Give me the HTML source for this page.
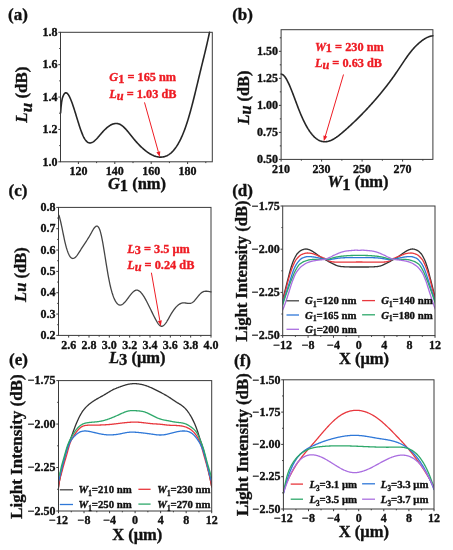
<!DOCTYPE html>
<html><head><meta charset="utf-8"><title>Figure</title>
<style>
html,body{margin:0;padding:0;background:#fff;width:453px;height:550px;overflow:hidden;}
svg{display:block;will-change:transform;filter:blur(0.3px);}
text{font-family:"Liberation Serif", serif;font-weight:bold;fill:#111;stroke:#111;stroke-width:0.35px;}
</style></head><body>
<svg width="453" height="550" viewBox="0 0 453 550">
<defs>
<clipPath id="cd"><rect x="282.7" y="206" width="152.3" height="129.6"/></clipPath>
<clipPath id="ce"><rect x="58.5" y="380.6" width="153.2" height="130.4"/></clipPath>
<clipPath id="cf"><rect x="283.4" y="379.8" width="150.6" height="129.2"/></clipPath>
</defs>
<line x1="58.30" y1="161.80" x2="60.50" y2="161.80" stroke="#3a3a3a" stroke-width="1.00"/>
<line x1="58.30" y1="129.43" x2="60.50" y2="129.43" stroke="#3a3a3a" stroke-width="1.00"/>
<line x1="58.30" y1="97.05" x2="60.50" y2="97.05" stroke="#3a3a3a" stroke-width="1.00"/>
<line x1="58.30" y1="64.68" x2="60.50" y2="64.68" stroke="#3a3a3a" stroke-width="1.00"/>
<line x1="58.30" y1="32.30" x2="60.50" y2="32.30" stroke="#3a3a3a" stroke-width="1.00"/>
<line x1="59.20" y1="145.61" x2="60.50" y2="145.61" stroke="#3a3a3a" stroke-width="1.00"/>
<line x1="59.20" y1="113.24" x2="60.50" y2="113.24" stroke="#3a3a3a" stroke-width="1.00"/>
<line x1="59.20" y1="80.86" x2="60.50" y2="80.86" stroke="#3a3a3a" stroke-width="1.00"/>
<line x1="59.20" y1="48.49" x2="60.50" y2="48.49" stroke="#3a3a3a" stroke-width="1.00"/>
<text class="yl" x="57.50" y="165.50" font-size="12.0" text-anchor="end">1.0</text>
<text class="yl" x="57.50" y="133.12" font-size="12.0" text-anchor="end">1.2</text>
<text class="yl" x="57.50" y="100.75" font-size="12.0" text-anchor="end">1.4</text>
<text class="yl" x="57.50" y="68.38" font-size="12.0" text-anchor="end">1.6</text>
<text class="yl" x="57.50" y="36.00" font-size="12.0" text-anchor="end">1.8</text>
<line x1="78.40" y1="161.80" x2="78.40" y2="164.00" stroke="#3a3a3a" stroke-width="1.00"/>
<line x1="114.80" y1="161.80" x2="114.80" y2="164.00" stroke="#3a3a3a" stroke-width="1.00"/>
<line x1="151.20" y1="161.80" x2="151.20" y2="164.00" stroke="#3a3a3a" stroke-width="1.00"/>
<line x1="187.60" y1="161.80" x2="187.60" y2="164.00" stroke="#3a3a3a" stroke-width="1.00"/>
<line x1="96.60" y1="161.80" x2="96.60" y2="163.10" stroke="#3a3a3a" stroke-width="1.00"/>
<line x1="133.00" y1="161.80" x2="133.00" y2="163.10" stroke="#3a3a3a" stroke-width="1.00"/>
<line x1="169.40" y1="161.80" x2="169.40" y2="163.10" stroke="#3a3a3a" stroke-width="1.00"/>
<line x1="205.80" y1="161.80" x2="205.80" y2="163.10" stroke="#3a3a3a" stroke-width="1.00"/>
<text class="xl" x="78.40" y="175.10" font-size="12.0" text-anchor="middle">120</text>
<text class="xl" x="114.80" y="175.10" font-size="12.0" text-anchor="middle">140</text>
<text class="xl" x="151.20" y="175.10" font-size="12.0" text-anchor="middle">160</text>
<text class="xl" x="187.60" y="175.10" font-size="12.0" text-anchor="middle">180</text>
<path d="M60.60,112.94 L61.10,106.56 L61.60,102.17 L62.10,99.27 L62.61,97.39 L63.11,96.05 L63.61,94.96 L64.11,94.11 L64.61,93.48 L65.11,93.06 L65.61,92.84 L66.11,92.82 L66.62,92.97 L67.12,93.29 L67.62,93.76 L68.12,94.38 L68.62,95.12 L69.12,95.99 L69.62,96.97 L70.13,98.04 L70.63,99.20 L71.13,100.43 L71.63,101.73 L72.13,103.09 L72.63,104.51 L73.13,105.98 L73.64,107.49 L74.14,109.04 L74.64,110.62 L75.14,112.22 L75.64,113.84 L76.14,115.47 L76.64,117.11 L77.14,118.74 L77.65,120.37 L78.15,121.99 L78.65,123.58 L79.15,125.15 L79.65,126.69 L80.15,128.19 L80.65,129.64 L81.16,131.04 L81.66,132.39 L82.16,133.66 L82.66,134.87 L83.16,136.01 L83.66,137.06 L84.16,138.02 L84.66,138.88 L85.17,139.65 L85.67,140.34 L86.17,140.93 L86.67,141.44 L87.17,141.87 L87.67,142.22 L88.17,142.50 L88.68,142.71 L89.18,142.85 L89.68,142.92 L90.18,142.93 L90.68,142.88 L91.18,142.77 L91.68,142.61 L92.18,142.40 L92.69,142.14 L93.19,141.84 L93.69,141.50 L94.19,141.12 L94.69,140.71 L95.19,140.26 L95.69,139.79 L96.20,139.29 L96.70,138.77 L97.20,138.22 L97.70,137.67 L98.20,137.09 L98.70,136.51 L99.20,135.92 L99.71,135.33 L100.21,134.74 L100.71,134.15 L101.21,133.56 L101.71,132.98 L102.21,132.41 L102.71,131.86 L103.21,131.31 L103.72,130.78 L104.22,130.26 L104.72,129.76 L105.22,129.27 L105.72,128.80 L106.22,128.34 L106.72,127.90 L107.23,127.47 L107.73,127.07 L108.23,126.68 L108.73,126.31 L109.23,125.96 L109.73,125.63 L110.23,125.32 L110.73,125.04 L111.24,124.77 L111.74,124.53 L112.24,124.31 L112.74,124.12 L113.24,123.95 L113.74,123.81 L114.24,123.69 L114.75,123.60 L115.25,123.54 L115.75,123.50 L116.25,123.49 L116.75,123.51 L117.25,123.57 L117.75,123.65 L118.25,123.76 L118.76,123.91 L119.26,124.08 L119.76,124.29 L120.26,124.54 L120.76,124.82 L121.26,125.13 L121.76,125.47 L122.27,125.84 L122.77,126.24 L123.27,126.67 L123.77,127.12 L124.27,127.60 L124.77,128.10 L125.27,128.62 L125.78,129.15 L126.28,129.71 L126.78,130.28 L127.28,130.86 L127.78,131.45 L128.28,132.06 L128.78,132.67 L129.28,133.29 L129.79,133.92 L130.29,134.55 L130.79,135.18 L131.29,135.81 L131.79,136.44 L132.29,137.07 L132.79,137.70 L133.30,138.32 L133.80,138.93 L134.30,139.53 L134.80,140.13 L135.30,140.71 L135.80,141.29 L136.30,141.86 L136.80,142.41 L137.31,142.96 L137.81,143.51 L138.31,144.04 L138.81,144.56 L139.31,145.08 L139.81,145.58 L140.31,146.08 L140.82,146.57 L141.32,147.05 L141.82,147.52 L142.32,147.98 L142.82,148.43 L143.32,148.87 L143.82,149.30 L144.32,149.72 L144.83,150.14 L145.33,150.54 L145.83,150.94 L146.33,151.32 L146.83,151.70 L147.33,152.06 L147.83,152.42 L148.34,152.76 L148.84,153.09 L149.34,153.41 L149.84,153.72 L150.34,154.02 L150.84,154.30 L151.34,154.58 L151.85,154.84 L152.35,155.09 L152.85,155.32 L153.35,155.54 L153.85,155.75 L154.35,155.95 L154.85,156.13 L155.35,156.29 L155.86,156.45 L156.36,156.59 L156.86,156.71 L157.36,156.82 L157.86,156.91 L158.36,156.99 L158.86,157.05 L159.37,157.09 L159.87,157.12 L160.37,157.14 L160.87,157.13 L161.37,157.11 L161.87,157.07 L162.37,157.02 L162.87,156.95 L163.38,156.85 L163.88,156.75 L164.38,156.62 L164.88,156.47 L165.38,156.31 L165.88,156.12 L166.38,155.91 L166.89,155.69 L167.39,155.44 L167.89,155.16 L168.39,154.87 L168.89,154.55 L169.39,154.21 L169.89,153.84 L170.39,153.45 L170.90,153.04 L171.40,152.60 L171.90,152.13 L172.40,151.63 L172.90,151.11 L173.40,150.56 L173.90,149.98 L174.41,149.37 L174.91,148.73 L175.41,148.06 L175.91,147.36 L176.41,146.63 L176.91,145.86 L177.41,145.07 L177.92,144.24 L178.42,143.37 L178.92,142.48 L179.42,141.55 L179.92,140.58 L180.42,139.58 L180.92,138.54 L181.42,137.46 L181.93,136.35 L182.43,135.20 L182.93,134.01 L183.43,132.78 L183.93,131.51 L184.43,130.20 L184.93,128.86 L185.44,127.47 L185.94,126.03 L186.44,124.56 L186.94,123.04 L187.44,121.49 L187.94,119.88 L188.44,118.23 L188.94,116.54 L189.45,114.81 L189.95,113.04 L190.45,111.23 L190.95,109.39 L191.45,107.52 L191.95,105.62 L192.45,103.69 L192.96,101.73 L193.46,99.75 L193.96,97.75 L194.46,95.73 L194.96,93.69 L195.46,91.64 L195.96,89.58 L196.46,87.50 L196.97,85.42 L197.47,83.33 L197.97,81.24 L198.47,79.15 L198.97,77.06 L199.47,74.97 L199.97,72.88 L200.48,70.81 L200.98,68.74 L201.48,66.68 L201.98,64.64 L202.48,62.60 L202.98,60.56 L203.48,58.52 L203.99,56.47 L204.49,54.42 L204.99,52.35 L205.49,50.26 L205.99,48.14 L206.49,46.01 L206.99,43.83 L207.49,41.63 L208.00,39.38 L208.50,37.10 L209.00,34.76 L209.50,32.37" fill="none" stroke="#262626" stroke-width="1.60" stroke-linejoin="round" stroke-linecap="round"/>
<rect x="60.50" y="32.30" width="151.80" height="129.50" fill="none" stroke="#3a3a3a" stroke-width="1.00"/>
<line x1="144.50" y1="102.40" x2="158.32" y2="151.70" stroke="#ee1c24" stroke-width="1.00"/>
<path d="M159.80,157.00 L156.39,152.24 L160.24,151.16 Z" fill="#ee1c24"/>
<text class="rt" x="109.30" y="81.00" font-size="12.3" style="fill:#ee1c24;stroke:#ee1c24"><tspan font-style="italic">G</tspan><tspan dy="1.5">1</tspan><tspan dy="-1.5"> = 165 nm</tspan></text>
<text class="rt" x="109.30" y="97.50" font-size="12.3" style="fill:#ee1c24;stroke:#ee1c24"><tspan font-style="italic">L</tspan><tspan font-style="italic" dy="2">u</tspan><tspan dy="-2"> = 1.03 dB</tspan></text>
<text class="pl" x="8.00" y="19.60" font-size="17.0">(a)</text>
<text class="yt" transform="translate(27.00,94.60) rotate(-90)" x="0" y="0" font-size="17.0" text-anchor="middle"><tspan font-style="italic">L</tspan><tspan font-style="italic" dy="5">u</tspan><tspan dy="-5"> (dB)</tspan></text>
<text class="xt" x="107.90" y="189.00" font-size="16.5"><tspan font-style="italic">G</tspan><tspan dy="1.5">1</tspan><tspan dy="-1.5"> (nm)</tspan></text>
<line x1="278.90" y1="159.40" x2="281.10" y2="159.40" stroke="#3a3a3a" stroke-width="1.00"/>
<line x1="278.90" y1="132.38" x2="281.10" y2="132.38" stroke="#3a3a3a" stroke-width="1.00"/>
<line x1="278.90" y1="105.36" x2="281.10" y2="105.36" stroke="#3a3a3a" stroke-width="1.00"/>
<line x1="278.90" y1="78.34" x2="281.10" y2="78.34" stroke="#3a3a3a" stroke-width="1.00"/>
<line x1="278.90" y1="51.32" x2="281.10" y2="51.32" stroke="#3a3a3a" stroke-width="1.00"/>
<line x1="279.80" y1="145.89" x2="281.10" y2="145.89" stroke="#3a3a3a" stroke-width="1.00"/>
<line x1="279.80" y1="118.87" x2="281.10" y2="118.87" stroke="#3a3a3a" stroke-width="1.00"/>
<line x1="279.80" y1="91.85" x2="281.10" y2="91.85" stroke="#3a3a3a" stroke-width="1.00"/>
<line x1="279.80" y1="64.83" x2="281.10" y2="64.83" stroke="#3a3a3a" stroke-width="1.00"/>
<line x1="279.80" y1="37.81" x2="281.10" y2="37.81" stroke="#3a3a3a" stroke-width="1.00"/>
<text class="yl" x="278.10" y="163.10" font-size="12.0" text-anchor="end">0.50</text>
<text class="yl" x="278.10" y="136.08" font-size="12.0" text-anchor="end">0.75</text>
<text class="yl" x="278.10" y="109.06" font-size="12.0" text-anchor="end">1.00</text>
<text class="yl" x="278.10" y="82.04" font-size="12.0" text-anchor="end">1.25</text>
<text class="yl" x="278.10" y="55.02" font-size="12.0" text-anchor="end">1.50</text>
<line x1="281.10" y1="159.40" x2="281.10" y2="161.60" stroke="#3a3a3a" stroke-width="1.00"/>
<line x1="321.60" y1="159.40" x2="321.60" y2="161.60" stroke="#3a3a3a" stroke-width="1.00"/>
<line x1="362.10" y1="159.40" x2="362.10" y2="161.60" stroke="#3a3a3a" stroke-width="1.00"/>
<line x1="402.60" y1="159.40" x2="402.60" y2="161.60" stroke="#3a3a3a" stroke-width="1.00"/>
<line x1="301.35" y1="159.40" x2="301.35" y2="160.70" stroke="#3a3a3a" stroke-width="1.00"/>
<line x1="341.85" y1="159.40" x2="341.85" y2="160.70" stroke="#3a3a3a" stroke-width="1.00"/>
<line x1="382.35" y1="159.40" x2="382.35" y2="160.70" stroke="#3a3a3a" stroke-width="1.00"/>
<line x1="422.85" y1="159.40" x2="422.85" y2="160.70" stroke="#3a3a3a" stroke-width="1.00"/>
<text class="xl" x="281.10" y="172.70" font-size="12.0" text-anchor="middle">210</text>
<text class="xl" x="321.60" y="172.70" font-size="12.0" text-anchor="middle">230</text>
<text class="xl" x="362.10" y="172.70" font-size="12.0" text-anchor="middle">250</text>
<text class="xl" x="402.60" y="172.70" font-size="12.0" text-anchor="middle">270</text>
<path d="M281.20,74.12 L281.70,74.20 L282.20,74.39 L282.70,74.66 L283.20,75.02 L283.70,75.46 L284.20,75.98 L284.70,76.57 L285.21,77.24 L285.71,77.97 L286.21,78.77 L286.71,79.63 L287.21,80.54 L287.71,81.51 L288.21,82.53 L288.71,83.59 L289.21,84.70 L289.71,85.84 L290.21,87.02 L290.71,88.23 L291.21,89.47 L291.71,90.73 L292.21,92.01 L292.72,93.31 L293.22,94.62 L293.72,95.95 L294.22,97.28 L294.72,98.62 L295.22,99.96 L295.72,101.30 L296.22,102.64 L296.72,103.97 L297.22,105.30 L297.72,106.62 L298.22,107.93 L298.72,109.22 L299.22,110.49 L299.72,111.75 L300.23,112.98 L300.73,114.19 L301.23,115.37 L301.73,116.53 L302.23,117.66 L302.73,118.76 L303.23,119.84 L303.73,120.89 L304.23,121.91 L304.73,122.91 L305.23,123.88 L305.73,124.83 L306.23,125.75 L306.73,126.64 L307.23,127.50 L307.73,128.34 L308.24,129.15 L308.74,129.94 L309.24,130.70 L309.74,131.43 L310.24,132.14 L310.74,132.81 L311.24,133.47 L311.74,134.09 L312.24,134.69 L312.74,135.26 L313.24,135.81 L313.74,136.33 L314.24,136.83 L314.74,137.30 L315.24,137.74 L315.75,138.17 L316.25,138.56 L316.75,138.93 L317.25,139.28 L317.75,139.61 L318.25,139.91 L318.75,140.18 L319.25,140.44 L319.75,140.67 L320.25,140.88 L320.75,141.06 L321.25,141.23 L321.75,141.37 L322.25,141.49 L322.75,141.58 L323.26,141.66 L323.76,141.71 L324.26,141.75 L324.76,141.76 L325.26,141.75 L325.76,141.72 L326.26,141.67 L326.76,141.61 L327.26,141.52 L327.76,141.42 L328.26,141.30 L328.76,141.16 L329.26,141.00 L329.76,140.83 L330.26,140.65 L330.77,140.44 L331.27,140.23 L331.77,139.99 L332.27,139.75 L332.77,139.49 L333.27,139.22 L333.77,138.94 L334.27,138.64 L334.77,138.33 L335.27,138.01 L335.77,137.68 L336.27,137.35 L336.77,137.00 L337.27,136.64 L337.77,136.27 L338.28,135.90 L338.78,135.51 L339.28,135.12 L339.78,134.73 L340.28,134.33 L340.78,133.92 L341.28,133.50 L341.78,133.08 L342.28,132.66 L342.78,132.23 L343.28,131.80 L343.78,131.37 L344.28,130.93 L344.78,130.49 L345.28,130.05 L345.79,129.61 L346.29,129.17 L346.79,128.72 L347.29,128.27 L347.79,127.82 L348.29,127.37 L348.79,126.91 L349.29,126.46 L349.79,126.00 L350.29,125.54 L350.79,125.07 L351.29,124.61 L351.79,124.14 L352.29,123.67 L352.79,123.20 L353.30,122.73 L353.80,122.25 L354.30,121.77 L354.80,121.29 L355.30,120.81 L355.80,120.32 L356.30,119.84 L356.80,119.35 L357.30,118.86 L357.80,118.37 L358.30,117.87 L358.80,117.37 L359.30,116.87 L359.80,116.37 L360.30,115.87 L360.80,115.36 L361.31,114.85 L361.81,114.34 L362.31,113.83 L362.81,113.31 L363.31,112.80 L363.81,112.28 L364.31,111.76 L364.81,111.23 L365.31,110.70 L365.81,110.18 L366.31,109.65 L366.81,109.11 L367.31,108.58 L367.81,108.04 L368.31,107.50 L368.82,106.96 L369.32,106.41 L369.82,105.87 L370.32,105.32 L370.82,104.77 L371.32,104.21 L371.82,103.66 L372.32,103.10 L372.82,102.54 L373.32,101.97 L373.82,101.41 L374.32,100.84 L374.82,100.27 L375.32,99.69 L375.82,99.12 L376.33,98.54 L376.83,97.96 L377.33,97.37 L377.83,96.78 L378.33,96.19 L378.83,95.60 L379.33,95.00 L379.83,94.40 L380.33,93.80 L380.83,93.19 L381.33,92.58 L381.83,91.97 L382.33,91.35 L382.83,90.74 L383.33,90.11 L383.84,89.49 L384.34,88.86 L384.84,88.22 L385.34,87.59 L385.84,86.95 L386.34,86.30 L386.84,85.65 L387.34,85.00 L387.84,84.35 L388.34,83.69 L388.84,83.02 L389.34,82.36 L389.84,81.69 L390.34,81.01 L390.84,80.33 L391.35,79.65 L391.85,78.96 L392.35,78.27 L392.85,77.57 L393.35,76.87 L393.85,76.17 L394.35,75.46 L394.85,74.74 L395.35,74.03 L395.85,73.30 L396.35,72.58 L396.85,71.84 L397.35,71.11 L397.85,70.37 L398.35,69.62 L398.86,68.87 L399.36,68.12 L399.86,67.37 L400.36,66.61 L400.86,65.86 L401.36,65.10 L401.86,64.35 L402.36,63.59 L402.86,62.84 L403.36,62.09 L403.86,61.35 L404.36,60.61 L404.86,59.87 L405.36,59.14 L405.86,58.41 L406.37,57.70 L406.87,56.98 L407.37,56.28 L407.87,55.58 L408.37,54.90 L408.87,54.22 L409.37,53.56 L409.87,52.90 L410.37,52.26 L410.87,51.63 L411.37,51.02 L411.87,50.41 L412.37,49.82 L412.87,49.24 L413.37,48.67 L413.87,48.12 L414.38,47.57 L414.88,47.04 L415.38,46.52 L415.88,46.01 L416.38,45.51 L416.88,45.03 L417.38,44.55 L417.88,44.08 L418.38,43.63 L418.88,43.18 L419.38,42.75 L419.88,42.33 L420.38,41.91 L420.88,41.51 L421.38,41.12 L421.89,40.73 L422.39,40.36 L422.89,40.01 L423.39,39.66 L423.89,39.32 L424.39,39.00 L424.89,38.69 L425.39,38.40 L425.89,38.12 L426.39,37.85 L426.89,37.59 L427.39,37.36 L427.89,37.13 L428.39,36.92 L428.89,36.73 L429.40,36.55 L429.90,36.39 L430.40,36.25 L430.90,36.12 L431.40,36.02 L431.90,35.93 L432.40,35.85 L432.90,35.80" fill="none" stroke="#262626" stroke-width="1.60" stroke-linejoin="round" stroke-linecap="round"/>
<rect x="281.10" y="29.70" width="151.80" height="129.70" fill="none" stroke="#3a3a3a" stroke-width="1.00"/>
<line x1="343.50" y1="74.50" x2="325.36" y2="136.02" stroke="#ee1c24" stroke-width="1.00"/>
<path d="M323.80,141.30 L323.44,135.46 L327.27,136.59 Z" fill="#ee1c24"/>
<text class="rt" x="314.90" y="50.90" font-size="12.3" style="fill:#ee1c24;stroke:#ee1c24"><tspan font-style="italic">W</tspan><tspan dy="1.5">1</tspan><tspan dy="-1.5"> = 230 nm</tspan></text>
<text class="rt" x="314.90" y="66.90" font-size="12.3" style="fill:#ee1c24;stroke:#ee1c24"><tspan font-style="italic">L</tspan><tspan font-style="italic" dy="2">u</tspan><tspan dy="-2"> = 0.63 dB</tspan></text>
<text class="pl" x="232.20" y="19.60" font-size="17.0">(b)</text>
<text class="yt" transform="translate(249.00,97.60) rotate(-90)" x="0" y="0" font-size="16.3" text-anchor="middle"><tspan font-style="italic">L</tspan><tspan font-style="italic" dy="2">u</tspan><tspan dy="-2"> (dB)</tspan></text>
<text class="xt" x="327.60" y="186.70" font-size="16.5"><tspan font-style="italic">W</tspan><tspan dy="3.2">1</tspan><tspan dy="-3.2"> (nm)</tspan></text>
<line x1="56.30" y1="335.40" x2="58.50" y2="335.40" stroke="#3a3a3a" stroke-width="1.00"/>
<line x1="56.30" y1="314.07" x2="58.50" y2="314.07" stroke="#3a3a3a" stroke-width="1.00"/>
<line x1="56.30" y1="292.73" x2="58.50" y2="292.73" stroke="#3a3a3a" stroke-width="1.00"/>
<line x1="56.30" y1="271.40" x2="58.50" y2="271.40" stroke="#3a3a3a" stroke-width="1.00"/>
<line x1="56.30" y1="250.07" x2="58.50" y2="250.07" stroke="#3a3a3a" stroke-width="1.00"/>
<line x1="56.30" y1="228.73" x2="58.50" y2="228.73" stroke="#3a3a3a" stroke-width="1.00"/>
<line x1="56.30" y1="207.40" x2="58.50" y2="207.40" stroke="#3a3a3a" stroke-width="1.00"/>
<line x1="57.20" y1="324.73" x2="58.50" y2="324.73" stroke="#3a3a3a" stroke-width="1.00"/>
<line x1="57.20" y1="303.40" x2="58.50" y2="303.40" stroke="#3a3a3a" stroke-width="1.00"/>
<line x1="57.20" y1="282.07" x2="58.50" y2="282.07" stroke="#3a3a3a" stroke-width="1.00"/>
<line x1="57.20" y1="260.73" x2="58.50" y2="260.73" stroke="#3a3a3a" stroke-width="1.00"/>
<line x1="57.20" y1="239.40" x2="58.50" y2="239.40" stroke="#3a3a3a" stroke-width="1.00"/>
<line x1="57.20" y1="218.07" x2="58.50" y2="218.07" stroke="#3a3a3a" stroke-width="1.00"/>
<text class="yl" x="55.50" y="339.10" font-size="12.0" text-anchor="end">0.2</text>
<text class="yl" x="55.50" y="317.77" font-size="12.0" text-anchor="end">0.3</text>
<text class="yl" x="55.50" y="296.43" font-size="12.0" text-anchor="end">0.4</text>
<text class="yl" x="55.50" y="275.10" font-size="12.0" text-anchor="end">0.5</text>
<text class="yl" x="55.50" y="253.77" font-size="12.0" text-anchor="end">0.6</text>
<text class="yl" x="55.50" y="232.43" font-size="12.0" text-anchor="end">0.7</text>
<text class="yl" x="55.50" y="211.10" font-size="12.0" text-anchor="end">0.8</text>
<line x1="68.67" y1="335.40" x2="68.67" y2="337.60" stroke="#3a3a3a" stroke-width="1.00"/>
<line x1="89.00" y1="335.40" x2="89.00" y2="337.60" stroke="#3a3a3a" stroke-width="1.00"/>
<line x1="109.33" y1="335.40" x2="109.33" y2="337.60" stroke="#3a3a3a" stroke-width="1.00"/>
<line x1="129.67" y1="335.40" x2="129.67" y2="337.60" stroke="#3a3a3a" stroke-width="1.00"/>
<line x1="150.00" y1="335.40" x2="150.00" y2="337.60" stroke="#3a3a3a" stroke-width="1.00"/>
<line x1="170.33" y1="335.40" x2="170.33" y2="337.60" stroke="#3a3a3a" stroke-width="1.00"/>
<line x1="190.67" y1="335.40" x2="190.67" y2="337.60" stroke="#3a3a3a" stroke-width="1.00"/>
<line x1="211.00" y1="335.40" x2="211.00" y2="337.60" stroke="#3a3a3a" stroke-width="1.00"/>
<line x1="78.83" y1="335.40" x2="78.83" y2="336.70" stroke="#3a3a3a" stroke-width="1.00"/>
<line x1="99.17" y1="335.40" x2="99.17" y2="336.70" stroke="#3a3a3a" stroke-width="1.00"/>
<line x1="119.50" y1="335.40" x2="119.50" y2="336.70" stroke="#3a3a3a" stroke-width="1.00"/>
<line x1="139.83" y1="335.40" x2="139.83" y2="336.70" stroke="#3a3a3a" stroke-width="1.00"/>
<line x1="160.17" y1="335.40" x2="160.17" y2="336.70" stroke="#3a3a3a" stroke-width="1.00"/>
<line x1="180.50" y1="335.40" x2="180.50" y2="336.70" stroke="#3a3a3a" stroke-width="1.00"/>
<line x1="200.83" y1="335.40" x2="200.83" y2="336.70" stroke="#3a3a3a" stroke-width="1.00"/>
<text class="xl" x="68.67" y="348.70" font-size="12.0" text-anchor="middle">2.6</text>
<text class="xl" x="89.00" y="348.70" font-size="12.0" text-anchor="middle">2.8</text>
<text class="xl" x="109.33" y="348.70" font-size="12.0" text-anchor="middle">3.0</text>
<text class="xl" x="129.67" y="348.70" font-size="12.0" text-anchor="middle">3.2</text>
<text class="xl" x="150.00" y="348.70" font-size="12.0" text-anchor="middle">3.4</text>
<text class="xl" x="170.33" y="348.70" font-size="12.0" text-anchor="middle">3.6</text>
<text class="xl" x="190.67" y="348.70" font-size="12.0" text-anchor="middle">3.8</text>
<text class="xl" x="211.00" y="348.70" font-size="12.0" text-anchor="middle">4.0</text>
<path d="M58.90,215.17 L59.40,216.77 L59.90,218.59 L60.40,220.59 L60.90,222.75 L61.40,225.03 L61.90,227.41 L62.40,229.84 L62.90,232.30 L63.40,234.75 L63.90,237.18 L64.40,239.53 L64.90,241.79 L65.40,243.91 L65.90,245.89 L66.40,247.71 L66.91,249.38 L67.41,250.90 L67.91,252.28 L68.41,253.51 L68.91,254.60 L69.41,255.55 L69.91,256.37 L70.41,257.04 L70.91,257.58 L71.41,257.99 L71.91,258.27 L72.41,258.43 L72.91,258.48 L73.41,258.41 L73.91,258.25 L74.41,257.99 L74.91,257.65 L75.41,257.23 L75.91,256.74 L76.41,256.18 L76.91,255.57 L77.41,254.91 L77.91,254.21 L78.41,253.47 L78.91,252.70 L79.41,251.92 L79.91,251.12 L80.41,250.31 L80.91,249.51 L81.41,248.71 L81.92,247.93 L82.42,247.15 L82.92,246.38 L83.42,245.61 L83.92,244.85 L84.42,244.09 L84.92,243.33 L85.42,242.57 L85.92,241.80 L86.42,241.04 L86.92,240.26 L87.42,239.48 L87.92,238.68 L88.42,237.88 L88.92,237.06 L89.42,236.23 L89.92,235.38 L90.42,234.51 L90.92,233.63 L91.42,232.72 L91.92,231.81 L92.42,230.91 L92.92,230.03 L93.42,229.21 L93.92,228.44 L94.42,227.75 L94.92,227.16 L95.42,226.68 L95.92,226.33 L96.42,226.13 L96.92,226.09 L97.43,226.24 L97.93,226.59 L98.43,227.15 L98.93,227.95 L99.43,229.00 L99.93,230.31 L100.43,231.91 L100.93,233.80 L101.43,235.95 L101.93,238.34 L102.43,240.92 L102.93,243.67 L103.43,246.56 L103.93,249.56 L104.43,252.64 L104.93,255.77 L105.43,258.91 L105.93,262.05 L106.43,265.15 L106.93,268.18 L107.43,271.15 L107.93,274.02 L108.43,276.79 L108.93,279.44 L109.43,281.95 L109.93,284.31 L110.43,286.51 L110.93,288.55 L111.43,290.44 L111.93,292.20 L112.44,293.82 L112.94,295.32 L113.44,296.71 L113.94,297.97 L114.44,299.13 L114.94,300.17 L115.44,301.10 L115.94,301.93 L116.44,302.65 L116.94,303.28 L117.44,303.81 L117.94,304.24 L118.44,304.58 L118.94,304.82 L119.44,304.99 L119.94,305.06 L120.44,305.06 L120.94,304.97 L121.44,304.81 L121.94,304.59 L122.44,304.29 L122.94,303.94 L123.44,303.54 L123.94,303.08 L124.44,302.58 L124.94,302.04 L125.44,301.47 L125.94,300.87 L126.44,300.24 L126.94,299.59 L127.45,298.93 L127.95,298.26 L128.45,297.58 L128.95,296.90 L129.45,296.23 L129.95,295.57 L130.45,294.92 L130.95,294.30 L131.45,293.70 L131.95,293.12 L132.45,292.59 L132.95,292.09 L133.45,291.64 L133.95,291.24 L134.45,290.89 L134.95,290.60 L135.45,290.38 L135.95,290.22 L136.45,290.14 L136.95,290.14 L137.45,290.21 L137.95,290.36 L138.45,290.57 L138.95,290.84 L139.45,291.19 L139.95,291.59 L140.45,292.05 L140.95,292.56 L141.45,293.13 L141.95,293.74 L142.45,294.40 L142.96,295.11 L143.46,295.85 L143.96,296.64 L144.46,297.46 L144.96,298.31 L145.46,299.19 L145.96,300.10 L146.46,301.03 L146.96,301.98 L147.46,302.95 L147.96,303.94 L148.46,304.94 L148.96,305.96 L149.46,306.98 L149.96,308.00 L150.46,309.04 L150.96,310.07 L151.46,311.11 L151.96,312.14 L152.46,313.16 L152.96,314.18 L153.46,315.20 L153.96,316.19 L154.46,317.18 L154.96,318.15 L155.46,319.10 L155.96,320.03 L156.46,320.93 L156.96,321.79 L157.46,322.61 L157.97,323.37 L158.47,324.06 L158.97,324.67 L159.47,325.20 L159.97,325.63 L160.47,325.96 L160.97,326.18 L161.47,326.27 L161.97,326.25 L162.47,326.12 L162.97,325.89 L163.47,325.56 L163.97,325.15 L164.47,324.66 L164.97,324.09 L165.47,323.46 L165.97,322.77 L166.47,322.03 L166.97,321.25 L167.47,320.43 L167.97,319.58 L168.47,318.71 L168.97,317.82 L169.47,316.93 L169.97,316.04 L170.47,315.16 L170.97,314.29 L171.47,313.44 L171.97,312.63 L172.47,311.84 L172.97,311.08 L173.48,310.35 L173.98,309.65 L174.48,308.99 L174.98,308.35 L175.48,307.75 L175.98,307.18 L176.48,306.64 L176.98,306.14 L177.48,305.67 L177.98,305.23 L178.48,304.83 L178.98,304.46 L179.48,304.13 L179.98,303.84 L180.48,303.58 L180.98,303.36 L181.48,303.18 L181.98,303.04 L182.48,302.94 L182.98,302.87 L183.48,302.84 L183.98,302.85 L184.48,302.88 L184.98,302.94 L185.48,303.01 L185.98,303.09 L186.48,303.17 L186.98,303.25 L187.48,303.33 L187.98,303.39 L188.49,303.44 L188.99,303.46 L189.49,303.45 L189.99,303.41 L190.49,303.32 L190.99,303.19 L191.49,303.01 L191.99,302.76 L192.49,302.45 L192.99,302.08 L193.49,301.66 L193.99,301.18 L194.49,300.67 L194.99,300.11 L195.49,299.53 L195.99,298.93 L196.49,298.31 L196.99,297.68 L197.49,297.05 L197.99,296.42 L198.49,295.80 L198.99,295.21 L199.49,294.63 L199.99,294.09 L200.49,293.59 L200.99,293.13 L201.49,292.72 L201.99,292.37 L202.49,292.07 L202.99,291.83 L203.50,291.63 L204.00,291.47 L204.50,291.36 L205.00,291.28 L205.50,291.24 L206.00,291.23 L206.50,291.24 L207.00,291.27 L207.50,291.32 L208.00,291.39 L208.50,291.47 L209.00,291.55 L209.50,291.64 L210.00,291.73 L210.50,291.82 L211.00,291.90" fill="none" stroke="#454545" stroke-width="1.30" stroke-linejoin="round" stroke-linecap="round"/>
<rect x="58.50" y="207.40" width="152.50" height="128.00" fill="none" stroke="#3a3a3a" stroke-width="1.00"/>
<line x1="151.40" y1="272.70" x2="159.84" y2="320.58" stroke="#ee1c24" stroke-width="1.00"/>
<path d="M160.80,326.00 L157.88,320.93 L161.81,320.24 Z" fill="#ee1c24"/>
<text class="rt" x="127.20" y="252.70" font-size="12.3" style="fill:#ee1c24;stroke:#ee1c24"><tspan font-style="italic">L</tspan><tspan dy="1.5">3</tspan><tspan dy="-1.5"> = 3.5 μm</tspan></text>
<text class="rt" x="127.20" y="268.60" font-size="12.3" style="fill:#ee1c24;stroke:#ee1c24"><tspan font-style="italic">L</tspan><tspan font-style="italic" dy="2">u</tspan><tspan dy="-2"> = 0.24 dB</tspan></text>
<text class="pl" x="8.60" y="195.50" font-size="17.0">(c)</text>
<text class="yt" transform="translate(26.20,274.60) rotate(-90)" x="0" y="0" font-size="16.5" text-anchor="middle"><tspan font-style="italic">Lu</tspan> (dB)</text>
<text class="xt" x="109.00" y="363.20" font-size="16.5"><tspan font-style="italic">L</tspan><tspan dy="2.2">3</tspan><tspan dy="-2.2"> (μm)</tspan></text>
<line x1="280.50" y1="335.60" x2="282.70" y2="335.60" stroke="#3a3a3a" stroke-width="1.00"/>
<line x1="280.50" y1="292.40" x2="282.70" y2="292.40" stroke="#3a3a3a" stroke-width="1.00"/>
<line x1="280.50" y1="249.20" x2="282.70" y2="249.20" stroke="#3a3a3a" stroke-width="1.00"/>
<line x1="280.50" y1="206.00" x2="282.70" y2="206.00" stroke="#3a3a3a" stroke-width="1.00"/>
<line x1="281.40" y1="314.00" x2="282.70" y2="314.00" stroke="#3a3a3a" stroke-width="1.00"/>
<line x1="281.40" y1="270.80" x2="282.70" y2="270.80" stroke="#3a3a3a" stroke-width="1.00"/>
<line x1="281.40" y1="227.60" x2="282.70" y2="227.60" stroke="#3a3a3a" stroke-width="1.00"/>
<text class="yl" x="279.70" y="339.30" font-size="12.0" text-anchor="end">−2.50</text>
<text class="yl" x="279.70" y="296.10" font-size="12.0" text-anchor="end">−2.25</text>
<text class="yl" x="279.70" y="252.90" font-size="12.0" text-anchor="end">−2.00</text>
<text class="yl" x="279.70" y="209.70" font-size="12.0" text-anchor="end">−1.75</text>
<line x1="282.70" y1="335.60" x2="282.70" y2="337.80" stroke="#3a3a3a" stroke-width="1.00"/>
<line x1="308.08" y1="335.60" x2="308.08" y2="337.80" stroke="#3a3a3a" stroke-width="1.00"/>
<line x1="333.47" y1="335.60" x2="333.47" y2="337.80" stroke="#3a3a3a" stroke-width="1.00"/>
<line x1="358.85" y1="335.60" x2="358.85" y2="337.80" stroke="#3a3a3a" stroke-width="1.00"/>
<line x1="384.23" y1="335.60" x2="384.23" y2="337.80" stroke="#3a3a3a" stroke-width="1.00"/>
<line x1="409.62" y1="335.60" x2="409.62" y2="337.80" stroke="#3a3a3a" stroke-width="1.00"/>
<line x1="435.00" y1="335.60" x2="435.00" y2="337.80" stroke="#3a3a3a" stroke-width="1.00"/>
<line x1="295.39" y1="335.60" x2="295.39" y2="336.90" stroke="#3a3a3a" stroke-width="1.00"/>
<line x1="320.77" y1="335.60" x2="320.77" y2="336.90" stroke="#3a3a3a" stroke-width="1.00"/>
<line x1="346.16" y1="335.60" x2="346.16" y2="336.90" stroke="#3a3a3a" stroke-width="1.00"/>
<line x1="371.54" y1="335.60" x2="371.54" y2="336.90" stroke="#3a3a3a" stroke-width="1.00"/>
<line x1="396.93" y1="335.60" x2="396.93" y2="336.90" stroke="#3a3a3a" stroke-width="1.00"/>
<line x1="422.31" y1="335.60" x2="422.31" y2="336.90" stroke="#3a3a3a" stroke-width="1.00"/>
<text class="xl" x="282.70" y="348.90" font-size="12.0" text-anchor="middle">−12</text>
<text class="xl" x="308.08" y="348.90" font-size="12.0" text-anchor="middle">−8</text>
<text class="xl" x="333.47" y="348.90" font-size="12.0" text-anchor="middle">−4</text>
<text class="xl" x="358.85" y="348.90" font-size="12.0" text-anchor="middle">0</text>
<text class="xl" x="384.23" y="348.90" font-size="12.0" text-anchor="middle">4</text>
<text class="xl" x="409.62" y="348.90" font-size="12.0" text-anchor="middle">8</text>
<text class="xl" x="435.00" y="348.90" font-size="12.0" text-anchor="middle">12</text>
<g clip-path="url(#cd)">
<path d="M282.70,299.50 L283.20,297.64 L283.70,295.76 L284.20,293.86 L284.70,291.94 L285.20,290.00 L285.70,288.02 L286.20,286.01 L286.70,283.98 L287.20,281.97 L287.70,280.00 L288.20,278.04 L288.70,276.05 L289.20,274.08 L289.70,272.15 L290.20,270.30 L290.70,268.57 L291.20,266.98 L291.70,265.45 L292.20,263.98 L292.70,262.59 L293.20,261.28 L293.70,260.08 L294.20,259.00 L294.70,258.01 L295.20,257.04 L295.70,256.10 L296.20,255.23 L296.70,254.44 L297.20,253.75 L297.70,253.20 L298.20,252.72 L298.70,252.25 L299.20,251.79 L299.70,251.36 L300.20,250.97 L300.70,250.61 L301.20,250.30 L301.70,250.05 L302.20,249.87 L302.70,249.70 L303.20,249.53 L303.70,249.37 L304.20,249.23 L304.70,249.11 L305.20,249.03 L305.70,249.00 L306.20,249.01 L306.70,249.06 L307.20,249.14 L307.70,249.25 L308.20,249.37 L308.70,249.52 L309.20,249.69 L309.70,249.86 L310.20,250.06 L310.70,250.29 L311.20,250.55 L311.70,250.83 L312.20,251.13 L312.70,251.45 L313.20,251.78 L313.70,252.12 L314.20,252.46 L314.70,252.80 L315.20,253.13 L315.70,253.47 L316.20,253.81 L316.70,254.17 L317.20,254.54 L317.70,254.91 L318.20,255.28 L318.70,255.65 L319.20,256.01 L319.70,256.37 L320.20,256.71 L320.70,257.04 L321.20,257.35 L321.70,257.65 L322.20,257.94 L322.70,258.22 L323.20,258.50 L323.70,258.77 L324.20,259.05 L324.70,259.33 L325.20,259.61 L325.70,259.90 L326.20,260.19 L326.70,260.48 L327.20,260.77 L327.70,261.06 L328.20,261.34 L328.70,261.62 L329.20,261.89 L329.70,262.16 L330.20,262.42 L330.70,262.68 L331.20,262.94 L331.70,263.20 L332.20,263.44 L332.70,263.69 L333.20,263.92 L333.70,264.15 L334.20,264.38 L334.70,264.62 L335.20,264.86 L335.70,265.09 L336.20,265.31 L336.70,265.52 L337.20,265.71 L337.70,265.87 L338.20,266.00 L338.70,266.11 L339.20,266.22 L339.70,266.32 L340.20,266.41 L340.70,266.49 L341.20,266.56 L341.70,266.62 L342.20,266.67 L342.70,266.70 L343.20,266.72 L343.70,266.75 L344.20,266.77 L344.70,266.79 L345.20,266.82 L345.70,266.84 L346.20,266.86 L346.70,266.88 L347.20,266.90 L347.70,266.92 L348.20,266.94 L348.70,266.96 L349.20,266.97 L349.70,266.98 L350.20,266.99 L350.70,267.00 L351.20,267.00 L351.70,267.00 L352.20,267.00 L352.70,267.00 L353.20,267.00 L353.70,267.00 L354.20,267.00 L354.70,267.00 L355.20,267.00 L355.70,267.00 L356.20,267.00 L356.70,267.00 L357.20,267.00 L357.70,267.00 L358.20,267.00 L358.70,267.00 L359.20,267.00 L359.70,267.00 L360.20,267.00 L360.70,267.00 L361.20,267.00 L361.70,267.00 L362.20,267.00 L362.70,267.00 L363.20,267.00 L363.70,267.00 L364.20,267.00 L364.70,267.00 L365.20,267.00 L365.70,267.00 L366.20,267.00 L366.70,267.00 L367.20,267.00 L367.70,267.00 L368.20,266.99 L368.70,266.98 L369.20,266.97 L369.70,266.96 L370.20,266.94 L370.70,266.92 L371.20,266.90 L371.70,266.88 L372.20,266.86 L372.70,266.84 L373.20,266.82 L373.70,266.79 L374.20,266.77 L374.70,266.75 L375.20,266.72 L375.70,266.70 L376.20,266.67 L376.70,266.62 L377.20,266.56 L377.70,266.49 L378.20,266.41 L378.70,266.32 L379.20,266.22 L379.70,266.11 L380.20,266.00 L380.70,265.87 L381.20,265.71 L381.70,265.52 L382.20,265.31 L382.70,265.09 L383.20,264.86 L383.70,264.62 L384.20,264.38 L384.70,264.15 L385.20,263.92 L385.70,263.69 L386.20,263.44 L386.70,263.20 L387.20,262.94 L387.70,262.68 L388.20,262.42 L388.70,262.16 L389.20,261.89 L389.70,261.62 L390.20,261.34 L390.70,261.06 L391.20,260.77 L391.70,260.48 L392.20,260.19 L392.70,259.90 L393.20,259.61 L393.70,259.33 L394.20,259.05 L394.70,258.77 L395.20,258.50 L395.70,258.22 L396.20,257.94 L396.70,257.65 L397.20,257.35 L397.70,257.04 L398.20,256.71 L398.70,256.37 L399.20,256.01 L399.70,255.65 L400.20,255.28 L400.70,254.91 L401.20,254.54 L401.70,254.17 L402.20,253.81 L402.70,253.47 L403.20,253.13 L403.70,252.80 L404.20,252.46 L404.70,252.12 L405.20,251.78 L405.70,251.45 L406.20,251.13 L406.70,250.83 L407.20,250.55 L407.70,250.29 L408.20,250.06 L408.70,249.86 L409.20,249.69 L409.70,249.52 L410.20,249.37 L410.70,249.25 L411.20,249.14 L411.70,249.06 L412.20,249.01 L412.70,249.00 L413.20,249.03 L413.70,249.11 L414.20,249.23 L414.70,249.37 L415.20,249.53 L415.70,249.70 L416.20,249.87 L416.70,250.05 L417.20,250.30 L417.70,250.61 L418.20,250.97 L418.70,251.36 L419.20,251.79 L419.70,252.25 L420.20,252.72 L420.70,253.20 L421.20,253.75 L421.70,254.44 L422.20,255.23 L422.70,256.10 L423.20,257.04 L423.70,258.01 L424.20,259.00 L424.70,260.08 L425.20,261.28 L425.70,262.59 L426.20,263.98 L426.70,265.45 L427.20,266.98 L427.70,268.57 L428.20,270.30 L428.70,272.15 L429.20,274.08 L429.70,276.05 L430.20,278.04 L430.70,280.00 L431.20,281.97 L431.70,283.98 L432.20,286.01 L432.70,288.02 L433.20,290.00 L433.70,291.94 L434.20,293.86 L434.70,295.76 L435.20,297.64 L435.70,299.50" fill="none" stroke="#333333" stroke-width="1.30" stroke-linejoin="round" stroke-linecap="round"/>
<path d="M282.70,301.00 L283.20,299.20 L283.70,297.39 L284.20,295.56 L284.70,293.72 L285.20,291.87 L285.70,290.00 L286.20,288.08 L286.70,286.11 L287.20,284.12 L287.70,282.16 L288.20,280.27 L288.70,278.50 L289.20,276.81 L289.70,275.15 L290.20,273.53 L290.70,271.96 L291.20,270.46 L291.70,269.04 L292.20,267.72 L292.70,266.50 L293.20,265.34 L293.70,264.21 L294.20,263.11 L294.70,262.06 L295.20,261.10 L295.70,260.24 L296.20,259.50 L296.70,258.89 L297.20,258.33 L297.70,257.78 L298.20,257.25 L298.70,256.73 L299.20,256.25 L299.70,255.80 L300.20,255.39 L300.70,255.02 L301.20,254.71 L301.70,254.46 L302.20,254.27 L302.70,254.10 L303.20,253.92 L303.70,253.75 L304.20,253.59 L304.70,253.44 L305.20,253.30 L305.70,253.19 L306.20,253.09 L306.70,253.03 L307.20,253.00 L307.70,253.01 L308.20,253.03 L308.70,253.06 L309.20,253.10 L309.70,253.15 L310.20,253.21 L310.70,253.28 L311.20,253.37 L311.70,253.46 L312.20,253.57 L312.70,253.69 L313.20,253.83 L313.70,253.98 L314.20,254.15 L314.70,254.34 L315.20,254.54 L315.70,254.75 L316.20,254.97 L316.70,255.19 L317.20,255.41 L317.70,255.63 L318.20,255.84 L318.70,256.04 L319.20,256.23 L319.70,256.42 L320.20,256.61 L320.70,256.80 L321.20,256.99 L321.70,257.18 L322.20,257.37 L322.70,257.56 L323.20,257.77 L323.70,257.98 L324.20,258.20 L324.70,258.45 L325.20,258.73 L325.70,259.03 L326.20,259.35 L326.70,259.68 L327.20,260.00 L327.70,260.30 L328.20,260.58 L328.70,260.83 L329.20,261.03 L329.70,261.19 L330.20,261.34 L330.70,261.48 L331.20,261.60 L331.70,261.71 L332.20,261.81 L332.70,261.89 L333.20,261.95 L333.70,261.99 L334.20,262.02 L334.70,262.05 L335.20,262.09 L335.70,262.11 L336.20,262.14 L336.70,262.16 L337.20,262.18 L337.70,262.19 L338.20,262.20 L338.70,262.20 L339.20,262.20 L339.70,262.21 L340.20,262.21 L340.70,262.21 L341.20,262.21 L341.70,262.21 L342.20,262.22 L342.70,262.22 L343.20,262.22 L343.70,262.22 L344.20,262.22 L344.70,262.22 L345.20,262.21 L345.70,262.21 L346.20,262.21 L346.70,262.20 L347.20,262.20 L347.70,262.19 L348.20,262.19 L348.70,262.18 L349.20,262.17 L349.70,262.16 L350.20,262.15 L350.70,262.14 L351.20,262.13 L351.70,262.12 L352.20,262.10 L352.70,262.09 L353.20,262.08 L353.70,262.07 L354.20,262.06 L354.70,262.05 L355.20,262.04 L355.70,262.03 L356.20,262.02 L356.70,262.02 L357.20,262.01 L357.70,262.01 L358.20,262.00 L358.70,262.00 L359.20,262.00 L359.70,262.00 L360.20,262.00 L360.70,262.01 L361.20,262.01 L361.70,262.02 L362.20,262.02 L362.70,262.03 L363.20,262.04 L363.70,262.05 L364.20,262.06 L364.70,262.07 L365.20,262.08 L365.70,262.09 L366.20,262.10 L366.70,262.12 L367.20,262.13 L367.70,262.14 L368.20,262.15 L368.70,262.16 L369.20,262.17 L369.70,262.18 L370.20,262.19 L370.70,262.19 L371.20,262.20 L371.70,262.20 L372.20,262.21 L372.70,262.21 L373.20,262.21 L373.70,262.22 L374.20,262.22 L374.70,262.22 L375.20,262.22 L375.70,262.22 L376.20,262.22 L376.70,262.21 L377.20,262.21 L377.70,262.21 L378.20,262.21 L378.70,262.21 L379.20,262.20 L379.70,262.20 L380.20,262.20 L380.70,262.19 L381.20,262.18 L381.70,262.16 L382.20,262.14 L382.70,262.11 L383.20,262.09 L383.70,262.05 L384.20,262.02 L384.70,261.99 L385.20,261.95 L385.70,261.89 L386.20,261.81 L386.70,261.71 L387.20,261.60 L387.70,261.48 L388.20,261.34 L388.70,261.19 L389.20,261.03 L389.70,260.83 L390.20,260.58 L390.70,260.30 L391.20,260.00 L391.70,259.68 L392.20,259.35 L392.70,259.03 L393.20,258.73 L393.70,258.45 L394.20,258.20 L394.70,257.98 L395.20,257.77 L395.70,257.56 L396.20,257.37 L396.70,257.18 L397.20,256.99 L397.70,256.80 L398.20,256.61 L398.70,256.42 L399.20,256.23 L399.70,256.04 L400.20,255.84 L400.70,255.63 L401.20,255.41 L401.70,255.19 L402.20,254.97 L402.70,254.75 L403.20,254.54 L403.70,254.34 L404.20,254.15 L404.70,253.98 L405.20,253.83 L405.70,253.69 L406.20,253.57 L406.70,253.46 L407.20,253.37 L407.70,253.28 L408.20,253.21 L408.70,253.15 L409.20,253.10 L409.70,253.06 L410.20,253.03 L410.70,253.01 L411.20,253.00 L411.70,253.03 L412.20,253.09 L412.70,253.19 L413.20,253.30 L413.70,253.44 L414.20,253.59 L414.70,253.75 L415.20,253.92 L415.70,254.10 L416.20,254.27 L416.70,254.46 L417.20,254.71 L417.70,255.02 L418.20,255.39 L418.70,255.80 L419.20,256.25 L419.70,256.73 L420.20,257.25 L420.70,257.78 L421.20,258.33 L421.70,258.89 L422.20,259.50 L422.70,260.24 L423.20,261.10 L423.70,262.06 L424.20,263.11 L424.70,264.21 L425.20,265.34 L425.70,266.50 L426.20,267.72 L426.70,269.04 L427.20,270.46 L427.70,271.96 L428.20,273.53 L428.70,275.15 L429.20,276.81 L429.70,278.50 L430.20,280.27 L430.70,282.16 L431.20,284.12 L431.70,286.11 L432.20,288.08 L432.70,290.00 L433.20,291.87 L433.70,293.72 L434.20,295.56 L434.70,297.39 L435.20,299.20 L435.70,301.00" fill="none" stroke="#e8373d" stroke-width="1.30" stroke-linejoin="round" stroke-linecap="round"/>
<path d="M282.70,303.00 L283.20,301.53 L283.70,300.06 L284.20,298.57 L284.70,297.07 L285.20,295.57 L285.70,294.05 L286.20,292.53 L286.70,291.00 L287.20,289.45 L287.70,287.87 L288.20,286.27 L288.70,284.68 L289.20,283.09 L289.70,281.53 L290.20,280.00 L290.70,278.47 L291.20,276.92 L291.70,275.37 L292.20,273.84 L292.70,272.36 L293.20,270.96 L293.70,269.67 L294.20,268.50 L294.70,267.43 L295.20,266.41 L295.70,265.46 L296.20,264.57 L296.70,263.76 L297.20,263.03 L297.70,262.40 L298.20,261.81 L298.70,261.22 L299.20,260.64 L299.70,260.09 L300.20,259.58 L300.70,259.12 L301.20,258.72 L301.70,258.39 L302.20,258.16 L302.70,257.95 L303.20,257.75 L303.70,257.54 L304.20,257.35 L304.70,257.17 L305.20,257.01 L305.70,256.87 L306.20,256.75 L306.70,256.66 L307.20,256.61 L307.70,256.60 L308.20,256.60 L308.70,256.61 L309.20,256.61 L309.70,256.63 L310.20,256.65 L310.70,256.67 L311.20,256.70 L311.70,256.74 L312.20,256.79 L312.70,256.85 L313.20,256.91 L313.70,256.99 L314.20,257.07 L314.70,257.15 L315.20,257.24 L315.70,257.33 L316.20,257.43 L316.70,257.52 L317.20,257.62 L317.70,257.72 L318.20,257.82 L318.70,257.92 L319.20,258.02 L319.70,258.14 L320.20,258.25 L320.70,258.37 L321.20,258.49 L321.70,258.62 L322.20,258.74 L322.70,258.85 L323.20,258.96 L323.70,259.07 L324.20,259.17 L324.70,259.25 L325.20,259.33 L325.70,259.40 L326.20,259.47 L326.70,259.53 L327.20,259.58 L327.70,259.61 L328.20,259.63 L328.70,259.63 L329.20,259.61 L329.70,259.57 L330.20,259.52 L330.70,259.44 L331.20,259.36 L331.70,259.28 L332.20,259.18 L332.70,259.09 L333.20,259.00 L333.70,258.92 L334.20,258.84 L334.70,258.75 L335.20,258.67 L335.70,258.58 L336.20,258.49 L336.70,258.41 L337.20,258.34 L337.70,258.26 L338.20,258.20 L338.70,258.14 L339.20,258.08 L339.70,258.03 L340.20,257.98 L340.70,257.93 L341.20,257.89 L341.70,257.85 L342.20,257.82 L342.70,257.80 L343.20,257.78 L343.70,257.77 L344.20,257.75 L344.70,257.73 L345.20,257.72 L345.70,257.70 L346.20,257.69 L346.70,257.67 L347.20,257.66 L347.70,257.65 L348.20,257.64 L348.70,257.63 L349.20,257.62 L349.70,257.61 L350.20,257.61 L350.70,257.60 L351.20,257.60 L351.70,257.60 L352.20,257.60 L352.70,257.60 L353.20,257.60 L353.70,257.60 L354.20,257.60 L354.70,257.60 L355.20,257.60 L355.70,257.60 L356.20,257.60 L356.70,257.60 L357.20,257.60 L357.70,257.60 L358.20,257.60 L358.70,257.60 L359.20,257.60 L359.70,257.60 L360.20,257.60 L360.70,257.60 L361.20,257.60 L361.70,257.60 L362.20,257.60 L362.70,257.60 L363.20,257.60 L363.70,257.60 L364.20,257.60 L364.70,257.60 L365.20,257.60 L365.70,257.60 L366.20,257.60 L366.70,257.60 L367.20,257.60 L367.70,257.60 L368.20,257.61 L368.70,257.61 L369.20,257.62 L369.70,257.63 L370.20,257.64 L370.70,257.65 L371.20,257.66 L371.70,257.67 L372.20,257.69 L372.70,257.70 L373.20,257.72 L373.70,257.73 L374.20,257.75 L374.70,257.77 L375.20,257.78 L375.70,257.80 L376.20,257.82 L376.70,257.85 L377.20,257.89 L377.70,257.93 L378.20,257.98 L378.70,258.03 L379.20,258.08 L379.70,258.14 L380.20,258.20 L380.70,258.26 L381.20,258.34 L381.70,258.41 L382.20,258.49 L382.70,258.58 L383.20,258.67 L383.70,258.75 L384.20,258.84 L384.70,258.92 L385.20,259.00 L385.70,259.09 L386.20,259.18 L386.70,259.28 L387.20,259.36 L387.70,259.44 L388.20,259.52 L388.70,259.57 L389.20,259.61 L389.70,259.63 L390.20,259.63 L390.70,259.61 L391.20,259.58 L391.70,259.53 L392.20,259.47 L392.70,259.40 L393.20,259.33 L393.70,259.25 L394.20,259.17 L394.70,259.07 L395.20,258.96 L395.70,258.85 L396.20,258.74 L396.70,258.62 L397.20,258.49 L397.70,258.37 L398.20,258.25 L398.70,258.14 L399.20,258.02 L399.70,257.92 L400.20,257.82 L400.70,257.72 L401.20,257.62 L401.70,257.52 L402.20,257.43 L402.70,257.33 L403.20,257.24 L403.70,257.15 L404.20,257.07 L404.70,256.99 L405.20,256.91 L405.70,256.85 L406.20,256.79 L406.70,256.74 L407.20,256.70 L407.70,256.67 L408.20,256.65 L408.70,256.63 L409.20,256.61 L409.70,256.61 L410.20,256.60 L410.70,256.60 L411.20,256.61 L411.70,256.66 L412.20,256.75 L412.70,256.87 L413.20,257.01 L413.70,257.17 L414.20,257.35 L414.70,257.54 L415.20,257.75 L415.70,257.95 L416.20,258.16 L416.70,258.39 L417.20,258.72 L417.70,259.12 L418.20,259.58 L418.70,260.09 L419.20,260.64 L419.70,261.22 L420.20,261.81 L420.70,262.40 L421.20,263.03 L421.70,263.76 L422.20,264.57 L422.70,265.46 L423.20,266.41 L423.70,267.43 L424.20,268.50 L424.70,269.67 L425.20,270.96 L425.70,272.36 L426.20,273.84 L426.70,275.37 L427.20,276.92 L427.70,278.47 L428.20,280.00 L428.70,281.53 L429.20,283.09 L429.70,284.68 L430.20,286.27 L430.70,287.87 L431.20,289.45 L431.70,291.00 L432.20,292.53 L432.70,294.05 L433.20,295.57 L433.70,297.07 L434.20,298.57 L434.70,300.06 L435.20,301.53 L435.70,303.00" fill="none" stroke="#2f78d8" stroke-width="1.30" stroke-linejoin="round" stroke-linecap="round"/>
<path d="M282.70,305.00 L283.20,303.32 L283.70,301.68 L284.20,300.07 L284.70,298.51 L285.20,297.00 L285.70,295.54 L286.20,294.13 L286.70,292.74 L287.20,291.37 L287.70,290.00 L288.20,288.62 L288.70,287.24 L289.20,285.85 L289.70,284.48 L290.20,283.13 L290.70,281.80 L291.20,280.51 L291.70,279.24 L292.20,277.97 L292.70,276.71 L293.20,275.46 L293.70,274.25 L294.20,273.08 L294.70,271.97 L295.20,270.94 L295.70,270.00 L296.20,269.11 L296.70,268.24 L297.20,267.40 L297.70,266.60 L298.20,265.86 L298.70,265.20 L299.20,264.62 L299.70,264.15 L300.20,263.79 L300.70,263.44 L301.20,263.10 L301.70,262.78 L302.20,262.47 L302.70,262.18 L303.20,261.91 L303.70,261.66 L304.20,261.44 L304.70,261.24 L305.20,261.06 L305.70,260.91 L306.20,260.75 L306.70,260.59 L307.20,260.43 L307.70,260.28 L308.20,260.13 L308.70,259.99 L309.20,259.87 L309.70,259.76 L310.20,259.68 L310.70,259.62 L311.20,259.58 L311.70,259.54 L312.20,259.50 L312.70,259.47 L313.20,259.44 L313.70,259.41 L314.20,259.38 L314.70,259.35 L315.20,259.33 L315.70,259.32 L316.20,259.30 L316.70,259.30 L317.20,259.29 L317.70,259.29 L318.20,259.29 L318.70,259.29 L319.20,259.29 L319.70,259.29 L320.20,259.30 L320.70,259.30 L321.20,259.30 L321.70,259.31 L322.20,259.31 L322.70,259.31 L323.20,259.31 L323.70,259.31 L324.20,259.31 L324.70,259.30 L325.20,259.30 L325.70,259.28 L326.20,259.25 L326.70,259.22 L327.20,259.17 L327.70,259.12 L328.20,259.06 L328.70,259.00 L329.20,258.93 L329.70,258.85 L330.20,258.74 L330.70,258.59 L331.20,258.44 L331.70,258.26 L332.20,258.09 L332.70,257.92 L333.20,257.76 L333.70,257.62 L334.20,257.51 L334.70,257.39 L335.20,257.28 L335.70,257.17 L336.20,257.06 L336.70,256.96 L337.20,256.87 L337.70,256.78 L338.20,256.70 L338.70,256.62 L339.20,256.54 L339.70,256.47 L340.20,256.40 L340.70,256.33 L341.20,256.26 L341.70,256.20 L342.20,256.15 L342.70,256.10 L343.20,256.06 L343.70,256.01 L344.20,255.97 L344.70,255.92 L345.20,255.88 L345.70,255.84 L346.20,255.80 L346.70,255.76 L347.20,255.72 L347.70,255.68 L348.20,255.65 L348.70,255.62 L349.20,255.59 L349.70,255.56 L350.20,255.54 L350.70,255.52 L351.20,255.51 L351.70,255.50 L352.20,255.49 L352.70,255.48 L353.20,255.47 L353.70,255.46 L354.20,255.45 L354.70,255.44 L355.20,255.43 L355.70,255.43 L356.20,255.42 L356.70,255.41 L357.20,255.41 L357.70,255.41 L358.20,255.40 L358.70,255.40 L359.20,255.40 L359.70,255.40 L360.20,255.40 L360.70,255.41 L361.20,255.41 L361.70,255.41 L362.20,255.42 L362.70,255.43 L363.20,255.43 L363.70,255.44 L364.20,255.45 L364.70,255.46 L365.20,255.47 L365.70,255.48 L366.20,255.49 L366.70,255.50 L367.20,255.51 L367.70,255.52 L368.20,255.54 L368.70,255.56 L369.20,255.59 L369.70,255.62 L370.20,255.65 L370.70,255.68 L371.20,255.72 L371.70,255.76 L372.20,255.80 L372.70,255.84 L373.20,255.88 L373.70,255.92 L374.20,255.97 L374.70,256.01 L375.20,256.06 L375.70,256.10 L376.20,256.15 L376.70,256.20 L377.20,256.26 L377.70,256.33 L378.20,256.40 L378.70,256.47 L379.20,256.54 L379.70,256.62 L380.20,256.70 L380.70,256.78 L381.20,256.87 L381.70,256.96 L382.20,257.06 L382.70,257.17 L383.20,257.28 L383.70,257.39 L384.20,257.51 L384.70,257.62 L385.20,257.76 L385.70,257.92 L386.20,258.09 L386.70,258.26 L387.20,258.44 L387.70,258.59 L388.20,258.74 L388.70,258.85 L389.20,258.93 L389.70,259.00 L390.20,259.06 L390.70,259.12 L391.20,259.17 L391.70,259.22 L392.20,259.25 L392.70,259.28 L393.20,259.30 L393.70,259.30 L394.20,259.31 L394.70,259.31 L395.20,259.31 L395.70,259.31 L396.20,259.31 L396.70,259.31 L397.20,259.30 L397.70,259.30 L398.20,259.30 L398.70,259.29 L399.20,259.29 L399.70,259.29 L400.20,259.29 L400.70,259.29 L401.20,259.29 L401.70,259.30 L402.20,259.30 L402.70,259.32 L403.20,259.33 L403.70,259.35 L404.20,259.38 L404.70,259.41 L405.20,259.44 L405.70,259.47 L406.20,259.50 L406.70,259.54 L407.20,259.58 L407.70,259.62 L408.20,259.68 L408.70,259.76 L409.20,259.87 L409.70,259.99 L410.20,260.13 L410.70,260.28 L411.20,260.43 L411.70,260.59 L412.20,260.75 L412.70,260.91 L413.20,261.06 L413.70,261.24 L414.20,261.44 L414.70,261.66 L415.20,261.91 L415.70,262.18 L416.20,262.47 L416.70,262.78 L417.20,263.10 L417.70,263.44 L418.20,263.79 L418.70,264.15 L419.20,264.62 L419.70,265.20 L420.20,265.86 L420.70,266.60 L421.20,267.40 L421.70,268.24 L422.20,269.11 L422.70,270.00 L423.20,270.94 L423.70,271.97 L424.20,273.08 L424.70,274.25 L425.20,275.46 L425.70,276.71 L426.20,277.97 L426.70,279.24 L427.20,280.51 L427.70,281.80 L428.20,283.13 L428.70,284.48 L429.20,285.85 L429.70,287.24 L430.20,288.62 L430.70,290.00 L431.20,291.37 L431.70,292.74 L432.20,294.13 L432.70,295.54 L433.20,297.00 L433.70,298.51 L434.20,300.07 L434.70,301.68 L435.20,303.32 L435.70,305.00" fill="none" stroke="#2ea86a" stroke-width="1.30" stroke-linejoin="round" stroke-linecap="round"/>
<path d="M282.70,310.00 L283.20,308.76 L283.70,307.48 L284.20,306.16 L284.70,304.80 L285.20,303.42 L285.70,302.00 L286.20,300.53 L286.70,299.01 L287.20,297.46 L287.70,295.89 L288.20,294.32 L288.70,292.78 L289.20,291.22 L289.70,289.62 L290.20,288.02 L290.70,286.43 L291.20,284.87 L291.70,283.35 L292.20,281.90 L292.70,280.52 L293.20,279.23 L293.70,277.97 L294.20,276.74 L294.70,275.57 L295.20,274.48 L295.70,273.49 L296.20,272.61 L296.70,271.86 L297.20,271.17 L297.70,270.50 L298.20,269.86 L298.70,269.24 L299.20,268.64 L299.70,268.08 L300.20,267.56 L300.70,267.06 L301.20,266.61 L301.70,266.20 L302.20,265.83 L302.70,265.47 L303.20,265.12 L303.70,264.77 L304.20,264.43 L304.70,264.10 L305.20,263.79 L305.70,263.49 L306.20,263.22 L306.70,262.97 L307.20,262.75 L307.70,262.56 L308.20,262.39 L308.70,262.22 L309.20,262.05 L309.70,261.89 L310.20,261.73 L310.70,261.58 L311.20,261.44 L311.70,261.31 L312.20,261.19 L312.70,261.08 L313.20,260.98 L313.70,260.89 L314.20,260.80 L314.70,260.71 L315.20,260.63 L315.70,260.55 L316.20,260.47 L316.70,260.39 L317.20,260.31 L317.70,260.23 L318.20,260.16 L318.70,260.09 L319.20,260.02 L319.70,259.96 L320.20,259.90 L320.70,259.85 L321.20,259.79 L321.70,259.74 L322.20,259.69 L322.70,259.64 L323.20,259.58 L323.70,259.51 L324.20,259.44 L324.70,259.35 L325.20,259.26 L325.70,259.13 L326.20,258.97 L326.70,258.79 L327.20,258.59 L327.70,258.37 L328.20,258.15 L328.70,257.92 L329.20,257.69 L329.70,257.46 L330.20,257.23 L330.70,256.98 L331.20,256.73 L331.70,256.47 L332.20,256.21 L332.70,255.95 L333.20,255.69 L333.70,255.45 L334.20,255.21 L334.70,254.97 L335.20,254.73 L335.70,254.50 L336.20,254.27 L336.70,254.04 L337.20,253.82 L337.70,253.60 L338.20,253.40 L338.70,253.20 L339.20,253.00 L339.70,252.80 L340.20,252.61 L340.70,252.43 L341.20,252.25 L341.70,252.09 L342.20,251.94 L342.70,251.80 L343.20,251.67 L343.70,251.55 L344.20,251.43 L344.70,251.31 L345.20,251.21 L345.70,251.11 L346.20,251.02 L346.70,250.95 L347.20,250.89 L347.70,250.83 L348.20,250.78 L348.70,250.73 L349.20,250.69 L349.70,250.64 L350.20,250.60 L350.70,250.56 L351.20,250.52 L351.70,250.48 L352.20,250.44 L352.70,250.40 L353.20,250.35 L353.70,250.31 L354.20,250.27 L354.70,250.24 L355.20,250.22 L355.70,250.20 L356.20,250.20 L356.70,250.21 L357.20,250.23 L357.70,250.25 L358.20,250.28 L358.70,250.29 L359.20,250.30 L359.70,250.29 L360.20,250.28 L360.70,250.25 L361.20,250.23 L361.70,250.21 L362.20,250.20 L362.70,250.20 L363.20,250.22 L363.70,250.24 L364.20,250.27 L364.70,250.31 L365.20,250.35 L365.70,250.40 L366.20,250.44 L366.70,250.48 L367.20,250.52 L367.70,250.56 L368.20,250.60 L368.70,250.64 L369.20,250.69 L369.70,250.73 L370.20,250.78 L370.70,250.83 L371.20,250.89 L371.70,250.95 L372.20,251.02 L372.70,251.11 L373.20,251.21 L373.70,251.31 L374.20,251.43 L374.70,251.55 L375.20,251.67 L375.70,251.80 L376.20,251.94 L376.70,252.09 L377.20,252.25 L377.70,252.43 L378.20,252.61 L378.70,252.80 L379.20,253.00 L379.70,253.20 L380.20,253.40 L380.70,253.60 L381.20,253.82 L381.70,254.04 L382.20,254.27 L382.70,254.50 L383.20,254.73 L383.70,254.97 L384.20,255.21 L384.70,255.45 L385.20,255.69 L385.70,255.95 L386.20,256.21 L386.70,256.47 L387.20,256.73 L387.70,256.98 L388.20,257.23 L388.70,257.46 L389.20,257.69 L389.70,257.92 L390.20,258.15 L390.70,258.37 L391.20,258.59 L391.70,258.79 L392.20,258.97 L392.70,259.13 L393.20,259.26 L393.70,259.35 L394.20,259.44 L394.70,259.51 L395.20,259.58 L395.70,259.64 L396.20,259.69 L396.70,259.74 L397.20,259.79 L397.70,259.85 L398.20,259.90 L398.70,259.96 L399.20,260.02 L399.70,260.09 L400.20,260.16 L400.70,260.23 L401.20,260.31 L401.70,260.39 L402.20,260.47 L402.70,260.55 L403.20,260.63 L403.70,260.71 L404.20,260.80 L404.70,260.89 L405.20,260.98 L405.70,261.08 L406.20,261.19 L406.70,261.31 L407.20,261.44 L407.70,261.58 L408.20,261.73 L408.70,261.89 L409.20,262.05 L409.70,262.22 L410.20,262.39 L410.70,262.56 L411.20,262.75 L411.70,262.97 L412.20,263.22 L412.70,263.49 L413.20,263.79 L413.70,264.10 L414.20,264.43 L414.70,264.77 L415.20,265.12 L415.70,265.47 L416.20,265.83 L416.70,266.20 L417.20,266.61 L417.70,267.06 L418.20,267.56 L418.70,268.08 L419.20,268.64 L419.70,269.24 L420.20,269.86 L420.70,270.50 L421.20,271.17 L421.70,271.86 L422.20,272.61 L422.70,273.49 L423.20,274.48 L423.70,275.57 L424.20,276.74 L424.70,277.97 L425.20,279.23 L425.70,280.52 L426.20,281.90 L426.70,283.35 L427.20,284.87 L427.70,286.43 L428.20,288.02 L428.70,289.62 L429.20,291.22 L429.70,292.78 L430.20,294.32 L430.70,295.89 L431.20,297.46 L431.70,299.01 L432.20,300.53 L432.70,302.00 L433.20,303.42 L433.70,304.80 L434.20,306.16 L434.70,307.48 L435.20,308.76 L435.70,310.00" fill="none" stroke="#aa6ee0" stroke-width="1.30" stroke-linejoin="round" stroke-linecap="round"/>
</g>
<rect x="282.70" y="206.00" width="152.30" height="129.60" fill="none" stroke="#3a3a3a" stroke-width="1.00"/>
<line x1="286.50" y1="300.80" x2="299.00" y2="300.80" stroke="#444444" stroke-width="1.30"/>
<text class="lg" x="305.10" y="304.10" font-size="10.8"><tspan font-style="italic">G</tspan><tspan font-size="7.2" dy="2.8">1</tspan><tspan dy="-2.8">=120 nm</tspan></text>
<line x1="362.10" y1="300.60" x2="375.00" y2="300.60" stroke="#e8373d" stroke-width="1.30"/>
<text class="lg" x="381.20" y="304.10" font-size="10.8"><tspan font-style="italic">G</tspan><tspan font-size="7.2" dy="2.8">1</tspan><tspan dy="-2.8">=140 nm</tspan></text>
<line x1="286.50" y1="315.00" x2="299.00" y2="315.00" stroke="#2f78d8" stroke-width="1.30"/>
<text class="lg" x="305.10" y="318.60" font-size="10.8"><tspan font-style="italic">G</tspan><tspan font-size="7.2" dy="2.8">1</tspan><tspan dy="-2.8">=165 nm</tspan></text>
<line x1="362.10" y1="314.80" x2="375.00" y2="314.80" stroke="#2ea86a" stroke-width="1.30"/>
<text class="lg" x="381.20" y="318.60" font-size="10.8"><tspan font-style="italic">G</tspan><tspan font-size="7.2" dy="2.8">1</tspan><tspan dy="-2.8">=180 nm</tspan></text>
<line x1="286.50" y1="329.30" x2="299.00" y2="329.30" stroke="#aa6ee0" stroke-width="1.30"/>
<text class="lg" x="305.30" y="332.50" font-size="10.8"><tspan font-style="italic">G</tspan><tspan font-size="7.2" dy="2.8">1</tspan><tspan dy="-2.8">=200 nm</tspan></text>
<text class="pl" x="232.20" y="196.00" font-size="17.0">(d)</text>
<text class="yt" transform="translate(247.00,271.00) rotate(-90)" x="0" y="0" font-size="16.6" text-anchor="middle">Light Intensity (dB)</text>
<text class="xt" x="338.90" y="364.30" font-size="16.5">X (μm)</text>
<line x1="56.30" y1="511.00" x2="58.50" y2="511.00" stroke="#3a3a3a" stroke-width="1.00"/>
<line x1="56.30" y1="467.53" x2="58.50" y2="467.53" stroke="#3a3a3a" stroke-width="1.00"/>
<line x1="56.30" y1="424.07" x2="58.50" y2="424.07" stroke="#3a3a3a" stroke-width="1.00"/>
<line x1="56.30" y1="380.60" x2="58.50" y2="380.60" stroke="#3a3a3a" stroke-width="1.00"/>
<line x1="57.20" y1="489.27" x2="58.50" y2="489.27" stroke="#3a3a3a" stroke-width="1.00"/>
<line x1="57.20" y1="445.80" x2="58.50" y2="445.80" stroke="#3a3a3a" stroke-width="1.00"/>
<line x1="57.20" y1="402.33" x2="58.50" y2="402.33" stroke="#3a3a3a" stroke-width="1.00"/>
<text class="yl" x="55.50" y="514.70" font-size="12.0" text-anchor="end">−2.50</text>
<text class="yl" x="55.50" y="471.23" font-size="12.0" text-anchor="end">−2.25</text>
<text class="yl" x="55.50" y="427.77" font-size="12.0" text-anchor="end">−2.00</text>
<text class="yl" x="55.50" y="384.30" font-size="12.0" text-anchor="end">−1.75</text>
<line x1="58.50" y1="511.00" x2="58.50" y2="513.20" stroke="#3a3a3a" stroke-width="1.00"/>
<line x1="84.03" y1="511.00" x2="84.03" y2="513.20" stroke="#3a3a3a" stroke-width="1.00"/>
<line x1="109.57" y1="511.00" x2="109.57" y2="513.20" stroke="#3a3a3a" stroke-width="1.00"/>
<line x1="135.10" y1="511.00" x2="135.10" y2="513.20" stroke="#3a3a3a" stroke-width="1.00"/>
<line x1="160.63" y1="511.00" x2="160.63" y2="513.20" stroke="#3a3a3a" stroke-width="1.00"/>
<line x1="186.17" y1="511.00" x2="186.17" y2="513.20" stroke="#3a3a3a" stroke-width="1.00"/>
<line x1="211.70" y1="511.00" x2="211.70" y2="513.20" stroke="#3a3a3a" stroke-width="1.00"/>
<line x1="71.27" y1="511.00" x2="71.27" y2="512.30" stroke="#3a3a3a" stroke-width="1.00"/>
<line x1="96.80" y1="511.00" x2="96.80" y2="512.30" stroke="#3a3a3a" stroke-width="1.00"/>
<line x1="122.33" y1="511.00" x2="122.33" y2="512.30" stroke="#3a3a3a" stroke-width="1.00"/>
<line x1="147.87" y1="511.00" x2="147.87" y2="512.30" stroke="#3a3a3a" stroke-width="1.00"/>
<line x1="173.40" y1="511.00" x2="173.40" y2="512.30" stroke="#3a3a3a" stroke-width="1.00"/>
<line x1="198.93" y1="511.00" x2="198.93" y2="512.30" stroke="#3a3a3a" stroke-width="1.00"/>
<text class="xl" x="58.50" y="524.30" font-size="12.0" text-anchor="middle">−12</text>
<text class="xl" x="84.03" y="524.30" font-size="12.0" text-anchor="middle">−8</text>
<text class="xl" x="109.57" y="524.30" font-size="12.0" text-anchor="middle">−4</text>
<text class="xl" x="135.10" y="524.30" font-size="12.0" text-anchor="middle">0</text>
<text class="xl" x="160.63" y="524.30" font-size="12.0" text-anchor="middle">4</text>
<text class="xl" x="186.17" y="524.30" font-size="12.0" text-anchor="middle">8</text>
<text class="xl" x="211.70" y="524.30" font-size="12.0" text-anchor="middle">12</text>
<g clip-path="url(#ce)">
<path d="M58.50,487.06 L59.00,483.65 L59.50,480.70 L60.00,478.09 L60.50,475.71 L61.00,473.44 L61.50,471.17 L62.00,468.90 L62.51,466.65 L63.01,464.41 L63.51,462.21 L64.01,460.06 L64.51,457.96 L65.01,455.93 L65.51,453.99 L66.01,452.13 L66.51,450.39 L67.01,448.76 L67.51,447.25 L68.01,445.84 L68.51,444.49 L69.01,443.19 L69.51,441.90 L70.02,440.58 L70.52,439.23 L71.02,437.84 L71.52,436.43 L72.02,435.01 L72.52,433.60 L73.02,432.20 L73.52,430.83 L74.02,429.47 L74.52,428.15 L75.02,426.84 L75.52,425.57 L76.02,424.32 L76.52,423.10 L77.02,421.92 L77.52,420.77 L78.03,419.65 L78.53,418.57 L79.03,417.53 L79.53,416.53 L80.03,415.57 L80.53,414.66 L81.03,413.79 L81.53,412.97 L82.03,412.18 L82.53,411.44 L83.03,410.73 L83.53,410.05 L84.03,409.41 L84.53,408.80 L85.03,408.22 L85.54,407.67 L86.04,407.14 L86.54,406.63 L87.04,406.15 L87.54,405.68 L88.04,405.23 L88.54,404.79 L89.04,404.37 L89.54,403.96 L90.04,403.56 L90.54,403.17 L91.04,402.79 L91.54,402.42 L92.04,402.06 L92.54,401.71 L93.05,401.37 L93.55,401.04 L94.05,400.71 L94.55,400.39 L95.05,400.08 L95.55,399.78 L96.05,399.48 L96.55,399.18 L97.05,398.89 L97.55,398.61 L98.05,398.32 L98.55,398.04 L99.05,397.76 L99.55,397.49 L100.05,397.21 L100.55,396.94 L101.06,396.66 L101.56,396.39 L102.06,396.11 L102.56,395.83 L103.06,395.55 L103.56,395.26 L104.06,394.97 L104.56,394.68 L105.06,394.38 L105.56,394.08 L106.06,393.77 L106.56,393.46 L107.06,393.15 L107.56,392.84 L108.06,392.53 L108.57,392.23 L109.07,391.92 L109.57,391.62 L110.07,391.32 L110.57,391.03 L111.07,390.75 L111.57,390.47 L112.07,390.20 L112.57,389.93 L113.07,389.68 L113.57,389.44 L114.07,389.20 L114.57,388.98 L115.07,388.76 L115.57,388.54 L116.08,388.34 L116.58,388.13 L117.08,387.94 L117.58,387.74 L118.08,387.56 L118.58,387.37 L119.08,387.19 L119.58,387.00 L120.08,386.82 L120.58,386.64 L121.08,386.47 L121.58,386.29 L122.08,386.11 L122.58,385.94 L123.08,385.76 L123.58,385.59 L124.09,385.43 L124.59,385.27 L125.09,385.11 L125.59,384.96 L126.09,384.82 L126.59,384.68 L127.09,384.55 L127.59,384.43 L128.09,384.32 L128.59,384.21 L129.09,384.12 L129.59,384.03 L130.09,383.96 L130.59,383.89 L131.09,383.83 L131.60,383.79 L132.10,383.75 L132.60,383.71 L133.10,383.69 L133.60,383.68 L134.10,383.67 L134.60,383.67 L135.10,383.68 L135.60,383.70 L136.10,383.72 L136.60,383.76 L137.10,383.79 L137.60,383.84 L138.10,383.90 L138.60,383.96 L139.11,384.03 L139.61,384.10 L140.11,384.18 L140.61,384.27 L141.11,384.37 L141.61,384.47 L142.11,384.59 L142.61,384.70 L143.11,384.83 L143.61,384.96 L144.11,385.10 L144.61,385.25 L145.11,385.40 L145.61,385.56 L146.11,385.73 L146.62,385.90 L147.12,386.08 L147.62,386.26 L148.12,386.45 L148.62,386.65 L149.12,386.85 L149.62,387.06 L150.12,387.27 L150.62,387.48 L151.12,387.70 L151.62,387.93 L152.12,388.16 L152.62,388.39 L153.12,388.62 L153.62,388.86 L154.12,389.10 L154.63,389.35 L155.13,389.59 L155.63,389.84 L156.13,390.09 L156.63,390.35 L157.13,390.60 L157.63,390.86 L158.13,391.12 L158.63,391.38 L159.13,391.64 L159.63,391.90 L160.13,392.16 L160.63,392.42 L161.13,392.68 L161.63,392.94 L162.14,393.21 L162.64,393.47 L163.14,393.74 L163.64,394.01 L164.14,394.28 L164.64,394.56 L165.14,394.84 L165.64,395.12 L166.14,395.41 L166.64,395.70 L167.14,396.00 L167.64,396.30 L168.14,396.61 L168.64,396.93 L169.14,397.25 L169.65,397.58 L170.15,397.91 L170.65,398.25 L171.15,398.59 L171.65,398.93 L172.15,399.28 L172.65,399.62 L173.15,399.96 L173.65,400.30 L174.15,400.64 L174.65,400.98 L175.15,401.31 L175.65,401.64 L176.15,401.96 L176.65,402.27 L177.15,402.58 L177.66,402.88 L178.16,403.18 L178.66,403.48 L179.16,403.78 L179.66,404.09 L180.16,404.40 L180.66,404.73 L181.16,405.06 L181.66,405.40 L182.16,405.77 L182.66,406.15 L183.16,406.55 L183.66,406.97 L184.16,407.42 L184.66,407.89 L185.17,408.40 L185.67,408.93 L186.17,409.49 L186.67,410.08 L187.17,410.70 L187.67,411.35 L188.17,412.03 L188.67,412.74 L189.17,413.49 L189.67,414.26 L190.17,415.07 L190.67,415.91 L191.17,416.78 L191.67,417.68 L192.17,418.62 L192.68,419.59 L193.18,420.60 L193.68,421.64 L194.18,422.73 L194.68,423.86 L195.18,425.03 L195.68,426.26 L196.18,427.54 L196.68,428.88 L197.18,430.28 L197.68,431.75 L198.18,433.27 L198.68,434.85 L199.18,436.45 L199.68,438.07 L200.18,439.67 L200.69,441.25 L201.19,442.79 L201.69,444.30 L202.19,445.83 L202.69,447.40 L203.19,449.03 L203.69,450.76 L204.19,452.61 L204.69,454.56 L205.19,456.60 L205.69,458.70 L206.19,460.84 L206.69,462.99 L207.19,465.15 L207.69,467.32 L208.20,469.51 L208.70,471.75 L209.20,474.05 L209.70,476.42 L210.20,478.89 L210.70,481.47 L211.20,484.17 L211.70,487.01" fill="none" stroke="#333333" stroke-width="1.30" stroke-linejoin="round" stroke-linecap="round"/>
<path d="M58.40,488.29 L58.90,484.52 L59.40,481.55 L59.90,479.18 L60.40,477.19 L60.90,475.36 L61.41,473.52 L61.91,471.64 L62.41,469.76 L62.91,467.89 L63.41,466.05 L63.91,464.26 L64.41,462.54 L64.91,460.86 L65.41,459.19 L65.91,457.53 L66.42,455.83 L66.92,454.07 L67.42,452.25 L67.92,450.39 L68.42,448.55 L68.92,446.77 L69.42,445.10 L69.92,443.58 L70.42,442.25 L70.92,441.08 L71.43,440.04 L71.93,439.09 L72.43,438.19 L72.93,437.32 L73.43,436.47 L73.93,435.64 L74.43,434.84 L74.93,434.06 L75.43,433.32 L75.93,432.60 L76.44,431.91 L76.94,431.25 L77.44,430.62 L77.94,430.03 L78.44,429.47 L78.94,428.95 L79.44,428.47 L79.94,428.02 L80.44,427.62 L80.94,427.26 L81.45,426.93 L81.95,426.65 L82.45,426.40 L82.95,426.18 L83.45,425.98 L83.95,425.82 L84.45,425.68 L84.95,425.57 L85.45,425.47 L85.95,425.39 L86.45,425.33 L86.96,425.28 L87.46,425.24 L87.96,425.21 L88.46,425.19 L88.96,425.17 L89.46,425.15 L89.96,425.13 L90.46,425.12 L90.96,425.11 L91.46,425.11 L91.97,425.10 L92.47,425.10 L92.97,425.09 L93.47,425.09 L93.97,425.09 L94.47,425.09 L94.97,425.09 L95.47,425.09 L95.97,425.08 L96.47,425.08 L96.98,425.07 L97.48,425.07 L97.98,425.06 L98.48,425.05 L98.98,425.04 L99.48,425.03 L99.98,425.02 L100.48,425.00 L100.98,424.98 L101.48,424.97 L101.99,424.95 L102.49,424.93 L102.99,424.90 L103.49,424.88 L103.99,424.86 L104.49,424.83 L104.99,424.80 L105.49,424.77 L105.99,424.74 L106.49,424.71 L107.00,424.67 L107.50,424.64 L108.00,424.60 L108.50,424.56 L109.00,424.52 L109.50,424.48 L110.00,424.43 L110.50,424.39 L111.00,424.34 L111.50,424.29 L112.00,424.24 L112.51,424.19 L113.01,424.13 L113.51,424.07 L114.01,424.02 L114.51,423.96 L115.01,423.90 L115.51,423.84 L116.01,423.78 L116.51,423.72 L117.01,423.65 L117.52,423.59 L118.02,423.53 L118.52,423.46 L119.02,423.40 L119.52,423.34 L120.02,423.28 L120.52,423.21 L121.02,423.15 L121.52,423.09 L122.02,423.03 L122.53,422.97 L123.03,422.92 L123.53,422.86 L124.03,422.80 L124.53,422.75 L125.03,422.70 L125.53,422.64 L126.03,422.59 L126.53,422.55 L127.03,422.50 L127.54,422.46 L128.04,422.41 L128.54,422.37 L129.04,422.33 L129.54,422.30 L130.04,422.26 L130.54,422.23 L131.04,422.20 L131.54,422.18 L132.04,422.16 L132.55,422.14 L133.05,422.12 L133.55,422.11 L134.05,422.10 L134.55,422.10 L135.05,422.10 L135.55,422.11 L136.05,422.12 L136.55,422.13 L137.05,422.15 L137.55,422.18 L138.06,422.20 L138.56,422.24 L139.06,422.27 L139.56,422.31 L140.06,422.35 L140.56,422.40 L141.06,422.45 L141.56,422.50 L142.06,422.55 L142.56,422.61 L143.07,422.67 L143.57,422.73 L144.07,422.78 L144.57,422.85 L145.07,422.91 L145.57,422.97 L146.07,423.03 L146.57,423.09 L147.07,423.16 L147.57,423.22 L148.08,423.28 L148.58,423.34 L149.08,423.39 L149.58,423.45 L150.08,423.50 L150.58,423.56 L151.08,423.61 L151.58,423.65 L152.08,423.70 L152.58,423.74 L153.09,423.78 L153.59,423.81 L154.09,423.85 L154.59,423.88 L155.09,423.91 L155.59,423.94 L156.09,423.96 L156.59,423.99 L157.09,424.02 L157.59,424.05 L158.10,424.09 L158.60,424.12 L159.10,424.16 L159.60,424.20 L160.10,424.24 L160.60,424.29 L161.10,424.34 L161.60,424.39 L162.10,424.45 L162.60,424.51 L163.10,424.57 L163.61,424.63 L164.11,424.69 L164.61,424.75 L165.11,424.81 L165.61,424.87 L166.11,424.93 L166.61,424.99 L167.11,425.04 L167.61,425.09 L168.11,425.13 L168.62,425.17 L169.12,425.21 L169.62,425.24 L170.12,425.27 L170.62,425.29 L171.12,425.31 L171.62,425.33 L172.12,425.35 L172.62,425.37 L173.12,425.38 L173.63,425.40 L174.13,425.41 L174.63,425.43 L175.13,425.44 L175.63,425.46 L176.13,425.48 L176.63,425.51 L177.13,425.53 L177.63,425.57 L178.13,425.60 L178.64,425.64 L179.14,425.69 L179.64,425.74 L180.14,425.80 L180.64,425.86 L181.14,425.93 L181.64,426.01 L182.14,426.10 L182.64,426.20 L183.14,426.31 L183.65,426.42 L184.15,426.55 L184.65,426.69 L185.15,426.84 L185.65,427.00 L186.15,427.18 L186.65,427.37 L187.15,427.58 L187.65,427.80 L188.15,428.04 L188.65,428.30 L189.16,428.58 L189.66,428.88 L190.16,429.20 L190.66,429.54 L191.16,429.91 L191.66,430.30 L192.16,430.72 L192.66,431.16 L193.16,431.63 L193.66,432.13 L194.17,432.67 L194.67,433.24 L195.17,433.85 L195.67,434.51 L196.17,435.21 L196.67,435.95 L197.17,436.75 L197.67,437.60 L198.17,438.50 L198.67,439.47 L199.18,440.53 L199.68,441.68 L200.18,442.93 L200.68,444.31 L201.18,445.82 L201.68,447.43 L202.18,449.13 L202.68,450.89 L203.18,452.68 L203.68,454.48 L204.19,456.27 L204.69,458.05 L205.19,459.82 L205.69,461.60 L206.19,463.39 L206.69,465.20 L207.19,467.04 L207.69,468.92 L208.19,470.85 L208.69,472.83 L209.20,474.89 L209.70,477.02 L210.20,479.25 L210.70,481.58 L211.20,484.02 L211.70,486.59" fill="none" stroke="#e8373d" stroke-width="1.30" stroke-linejoin="round" stroke-linecap="round"/>
<path d="M58.70,480.99 L59.20,479.02 L59.70,477.05 L60.20,475.07 L60.70,473.07 L61.20,471.08 L61.70,469.08 L62.20,467.09 L62.70,465.11 L63.20,463.17 L63.70,461.26 L64.20,459.40 L64.70,457.60 L65.20,455.86 L65.70,454.17 L66.20,452.54 L66.70,450.96 L67.20,449.42 L67.70,447.94 L68.20,446.51 L68.70,445.16 L69.20,443.90 L69.70,442.75 L70.20,441.71 L70.70,440.81 L71.20,440.01 L71.70,439.30 L72.20,438.66 L72.70,438.07 L73.20,437.50 L73.70,436.95 L74.20,436.42 L74.70,435.91 L75.20,435.43 L75.70,434.96 L76.20,434.53 L76.70,434.11 L77.20,433.72 L77.70,433.36 L78.20,433.02 L78.70,432.71 L79.20,432.42 L79.70,432.16 L80.20,431.93 L80.70,431.72 L81.20,431.54 L81.70,431.39 L82.20,431.27 L82.70,431.16 L83.20,431.08 L83.70,431.03 L84.20,430.99 L84.70,430.97 L85.20,430.97 L85.70,430.98 L86.20,431.01 L86.70,431.05 L87.20,431.10 L87.70,431.16 L88.20,431.24 L88.70,431.32 L89.20,431.40 L89.70,431.49 L90.20,431.59 L90.70,431.69 L91.20,431.80 L91.70,431.91 L92.20,432.02 L92.70,432.14 L93.20,432.26 L93.70,432.38 L94.20,432.50 L94.70,432.62 L95.20,432.75 L95.70,432.87 L96.20,432.99 L96.70,433.11 L97.20,433.23 L97.70,433.34 L98.20,433.46 L98.70,433.57 L99.20,433.68 L99.70,433.78 L100.20,433.89 L100.70,433.98 L101.20,434.08 L101.70,434.17 L102.20,434.26 L102.70,434.34 L103.20,434.41 L103.70,434.48 L104.20,434.55 L104.70,434.61 L105.20,434.66 L105.70,434.71 L106.20,434.75 L106.70,434.79 L107.20,434.82 L107.70,434.85 L108.20,434.87 L108.70,434.88 L109.20,434.89 L109.70,434.89 L110.20,434.89 L110.70,434.88 L111.20,434.87 L111.70,434.85 L112.20,434.83 L112.70,434.80 L113.20,434.77 L113.70,434.73 L114.20,434.69 L114.70,434.65 L115.20,434.60 L115.70,434.54 L116.20,434.48 L116.70,434.42 L117.20,434.35 L117.70,434.28 L118.20,434.20 L118.70,434.12 L119.20,434.04 L119.70,433.95 L120.20,433.85 L120.70,433.76 L121.20,433.66 L121.70,433.56 L122.20,433.45 L122.70,433.35 L123.20,433.24 L123.70,433.13 L124.20,433.03 L124.70,432.93 L125.20,432.83 L125.70,432.73 L126.20,432.64 L126.70,432.55 L127.20,432.47 L127.70,432.40 L128.20,432.34 L128.70,432.28 L129.20,432.23 L129.70,432.19 L130.20,432.16 L130.70,432.14 L131.20,432.13 L131.70,432.12 L132.20,432.12 L132.70,432.13 L133.20,432.14 L133.70,432.16 L134.20,432.18 L134.70,432.20 L135.20,432.23 L135.70,432.26 L136.20,432.30 L136.70,432.34 L137.20,432.38 L137.70,432.42 L138.20,432.46 L138.70,432.51 L139.20,432.55 L139.70,432.60 L140.20,432.65 L140.70,432.70 L141.20,432.76 L141.70,432.81 L142.20,432.87 L142.70,432.92 L143.20,432.98 L143.70,433.04 L144.20,433.10 L144.70,433.16 L145.20,433.23 L145.70,433.29 L146.20,433.36 L146.70,433.42 L147.20,433.49 L147.70,433.56 L148.20,433.62 L148.70,433.69 L149.20,433.76 L149.70,433.83 L150.20,433.90 L150.70,433.97 L151.20,434.05 L151.70,434.12 L152.20,434.19 L152.70,434.26 L153.20,434.33 L153.70,434.41 L154.20,434.48 L154.70,434.55 L155.20,434.61 L155.70,434.68 L156.20,434.74 L156.70,434.79 L157.20,434.85 L157.70,434.89 L158.20,434.93 L158.70,434.96 L159.20,434.99 L159.70,435.00 L160.20,435.01 L160.70,435.01 L161.20,435.00 L161.70,434.97 L162.20,434.94 L162.70,434.90 L163.20,434.85 L163.70,434.79 L164.20,434.73 L164.70,434.66 L165.20,434.58 L165.70,434.49 L166.20,434.40 L166.70,434.30 L167.20,434.20 L167.70,434.09 L168.20,433.98 L168.70,433.86 L169.20,433.74 L169.70,433.61 L170.20,433.49 L170.70,433.36 L171.20,433.23 L171.70,433.10 L172.20,432.97 L172.70,432.83 L173.20,432.70 L173.70,432.57 L174.20,432.44 L174.70,432.32 L175.20,432.19 L175.70,432.07 L176.20,431.95 L176.70,431.84 L177.20,431.73 L177.70,431.63 L178.20,431.53 L178.70,431.44 L179.20,431.36 L179.70,431.28 L180.20,431.21 L180.70,431.15 L181.20,431.10 L181.70,431.05 L182.20,431.02 L182.70,430.99 L183.20,430.98 L183.70,430.97 L184.20,430.98 L184.70,431.00 L185.20,431.03 L185.70,431.07 L186.20,431.13 L186.70,431.21 L187.20,431.30 L187.70,431.42 L188.20,431.55 L188.70,431.71 L189.20,431.89 L189.70,432.10 L190.20,432.34 L190.70,432.61 L191.20,432.90 L191.70,433.23 L192.20,433.60 L192.70,434.00 L193.20,434.44 L193.70,434.91 L194.20,435.41 L194.70,435.95 L195.20,436.53 L195.70,437.13 L196.20,437.76 L196.70,438.41 L197.20,439.10 L197.70,439.81 L198.20,440.54 L198.70,441.30 L199.20,442.11 L199.70,442.97 L200.20,443.88 L200.70,444.87 L201.20,445.93 L201.70,447.08 L202.20,448.32 L202.70,449.64 L203.20,451.06 L203.70,452.58 L204.20,454.20 L204.70,455.91 L205.20,457.70 L205.70,459.55 L206.20,461.46 L206.70,463.42 L207.20,465.40 L207.70,467.40 L208.20,469.40 L208.70,471.39 L209.20,473.34 L209.70,475.24 L210.20,477.07 L210.70,478.82 L211.20,480.48 L211.70,482.01" fill="none" stroke="#2f78d8" stroke-width="1.30" stroke-linejoin="round" stroke-linecap="round"/>
<path d="M58.60,476.20 L59.10,475.61 L59.60,474.22 L60.10,472.28 L60.60,470.05 L61.10,467.80 L61.60,465.73 L62.10,463.84 L62.60,462.08 L63.10,460.39 L63.60,458.73 L64.10,457.04 L64.60,455.28 L65.10,453.47 L65.60,451.67 L66.10,449.90 L66.61,448.21 L67.11,446.63 L67.61,445.19 L68.11,443.89 L68.61,442.70 L69.11,441.59 L69.61,440.56 L70.11,439.56 L70.61,438.60 L71.11,437.66 L71.61,436.74 L72.11,435.85 L72.61,434.99 L73.11,434.16 L73.61,433.36 L74.11,432.59 L74.61,431.85 L75.11,431.14 L75.61,430.46 L76.11,429.81 L76.61,429.20 L77.11,428.61 L77.61,428.05 L78.11,427.53 L78.61,427.03 L79.11,426.57 L79.61,426.13 L80.11,425.73 L80.61,425.36 L81.11,425.02 L81.62,424.71 L82.12,424.43 L82.62,424.17 L83.12,423.94 L83.62,423.73 L84.12,423.55 L84.62,423.38 L85.12,423.23 L85.62,423.10 L86.12,422.98 L86.62,422.88 L87.12,422.79 L87.62,422.70 L88.12,422.63 L88.62,422.56 L89.12,422.50 L89.62,422.45 L90.12,422.39 L90.62,422.34 L91.12,422.30 L91.62,422.25 L92.12,422.21 L92.62,422.17 L93.12,422.13 L93.62,422.09 L94.12,422.05 L94.62,422.00 L95.12,421.96 L95.62,421.91 L96.12,421.86 L96.62,421.80 L97.13,421.74 L97.63,421.68 L98.13,421.61 L98.63,421.54 L99.13,421.46 L99.63,421.38 L100.13,421.29 L100.63,421.20 L101.13,421.10 L101.63,421.00 L102.13,420.90 L102.63,420.78 L103.13,420.66 L103.63,420.54 L104.13,420.41 L104.63,420.28 L105.13,420.14 L105.63,419.99 L106.13,419.84 L106.63,419.69 L107.13,419.52 L107.63,419.36 L108.13,419.19 L108.63,419.01 L109.13,418.83 L109.63,418.65 L110.13,418.46 L110.63,418.27 L111.13,418.08 L111.63,417.88 L112.13,417.68 L112.64,417.47 L113.14,417.27 L113.64,417.06 L114.14,416.84 L114.64,416.63 L115.14,416.41 L115.64,416.19 L116.14,415.97 L116.64,415.75 L117.14,415.52 L117.64,415.30 L118.14,415.07 L118.64,414.84 L119.14,414.61 L119.64,414.38 L120.14,414.15 L120.64,413.92 L121.14,413.69 L121.64,413.46 L122.14,413.23 L122.64,413.01 L123.14,412.79 L123.64,412.57 L124.14,412.36 L124.64,412.16 L125.14,411.97 L125.64,411.78 L126.14,411.61 L126.64,411.45 L127.14,411.30 L127.65,411.16 L128.15,411.04 L128.65,410.93 L129.15,410.84 L129.65,410.77 L130.15,410.71 L130.65,410.66 L131.15,410.62 L131.65,410.60 L132.15,410.59 L132.65,410.58 L133.15,410.59 L133.65,410.60 L134.15,410.62 L134.65,410.64 L135.15,410.67 L135.65,410.70 L136.15,410.73 L136.65,410.77 L137.15,410.80 L137.65,410.84 L138.15,410.87 L138.65,410.91 L139.15,410.96 L139.65,411.01 L140.15,411.07 L140.65,411.13 L141.15,411.20 L141.65,411.28 L142.15,411.37 L142.65,411.46 L143.16,411.58 L143.66,411.70 L144.16,411.83 L144.66,411.98 L145.16,412.15 L145.66,412.33 L146.16,412.52 L146.66,412.72 L147.16,412.94 L147.66,413.16 L148.16,413.39 L148.66,413.63 L149.16,413.88 L149.66,414.13 L150.16,414.38 L150.66,414.64 L151.16,414.90 L151.66,415.16 L152.16,415.42 L152.66,415.68 L153.16,415.94 L153.66,416.19 L154.16,416.44 L154.66,416.69 L155.16,416.93 L155.66,417.17 L156.16,417.40 L156.66,417.62 L157.16,417.84 L157.66,418.06 L158.17,418.26 L158.67,418.46 L159.17,418.65 L159.67,418.83 L160.17,418.99 L160.67,419.15 L161.17,419.30 L161.67,419.44 L162.17,419.57 L162.67,419.70 L163.17,419.81 L163.67,419.92 L164.17,420.03 L164.67,420.13 L165.17,420.22 L165.67,420.31 L166.17,420.40 L166.67,420.49 L167.17,420.58 L167.67,420.67 L168.17,420.76 L168.67,420.86 L169.17,420.95 L169.67,421.05 L170.17,421.15 L170.67,421.25 L171.17,421.35 L171.67,421.45 L172.17,421.54 L172.67,421.64 L173.17,421.74 L173.68,421.83 L174.18,421.92 L174.68,422.00 L175.18,422.09 L175.68,422.16 L176.18,422.23 L176.68,422.30 L177.18,422.36 L177.68,422.41 L178.18,422.46 L178.68,422.51 L179.18,422.56 L179.68,422.61 L180.18,422.66 L180.68,422.72 L181.18,422.79 L181.68,422.86 L182.18,422.94 L182.68,423.04 L183.18,423.15 L183.68,423.27 L184.18,423.41 L184.68,423.56 L185.18,423.74 L185.68,423.93 L186.18,424.14 L186.68,424.37 L187.18,424.62 L187.68,424.88 L188.18,425.16 L188.68,425.45 L189.19,425.76 L189.69,426.08 L190.19,426.42 L190.69,426.77 L191.19,427.13 L191.69,427.51 L192.19,427.89 L192.69,428.29 L193.19,428.70 L193.69,429.13 L194.19,429.59 L194.69,430.09 L195.19,430.63 L195.69,431.23 L196.19,431.90 L196.69,432.63 L197.19,433.45 L197.69,434.35 L198.19,435.35 L198.69,436.44 L199.19,437.58 L199.69,438.78 L200.19,440.00 L200.69,441.24 L201.19,442.48 L201.69,443.74 L202.19,445.05 L202.69,446.43 L203.19,447.91 L203.69,449.50 L204.20,451.23 L204.70,453.08 L205.20,454.99 L205.70,456.93 L206.20,458.87 L206.70,460.76 L207.20,462.58 L207.70,464.34 L208.20,466.04 L208.70,467.72 L209.20,469.38 L209.70,471.05 L210.20,472.74 L210.70,474.47 L211.20,476.25 L211.70,478.10" fill="none" stroke="#2ea86a" stroke-width="1.30" stroke-linejoin="round" stroke-linecap="round"/>
</g>
<rect x="58.50" y="380.60" width="153.20" height="130.40" fill="none" stroke="#3a3a3a" stroke-width="1.00"/>
<line x1="59.80" y1="489.80" x2="73.00" y2="489.80" stroke="#444444" stroke-width="1.30"/>
<text class="lg" x="78.60" y="493.30" font-size="10.8"><tspan font-style="italic">W</tspan><tspan font-size="7.2" dy="2.8">1</tspan><tspan dy="-2.8">=210 nm</tspan></text>
<line x1="138.40" y1="489.30" x2="150.60" y2="489.30" stroke="#e8373d" stroke-width="1.30"/>
<text class="lg" x="157.30" y="493.30" font-size="10.8"><tspan font-style="italic">W</tspan><tspan font-size="7.2" dy="2.8">1</tspan><tspan dy="-2.8">=230 nm</tspan></text>
<line x1="59.80" y1="504.50" x2="73.00" y2="504.50" stroke="#2f78d8" stroke-width="1.30"/>
<text class="lg" x="78.60" y="508.00" font-size="10.8"><tspan font-style="italic">W</tspan><tspan font-size="7.2" dy="2.8">1</tspan><tspan dy="-2.8">=250 nm</tspan></text>
<line x1="138.40" y1="504.10" x2="150.60" y2="504.10" stroke="#2ea86a" stroke-width="1.30"/>
<text class="lg" x="157.30" y="508.00" font-size="10.8"><tspan font-style="italic">W</tspan><tspan font-size="7.2" dy="2.8">1</tspan><tspan dy="-2.8">=270 nm</tspan></text>
<text class="pl" x="9.00" y="365.20" font-size="17.0">(e)</text>
<text class="yt" transform="translate(21.70,446.60) rotate(-90)" x="0" y="0" font-size="17.0" text-anchor="middle">Light Intensity (dB)</text>
<text class="xt" x="112.20" y="540.30" font-size="16.5">X (μm)</text>
<line x1="281.20" y1="509.00" x2="283.40" y2="509.00" stroke="#3a3a3a" stroke-width="1.00"/>
<line x1="281.20" y1="476.70" x2="283.40" y2="476.70" stroke="#3a3a3a" stroke-width="1.00"/>
<line x1="281.20" y1="444.40" x2="283.40" y2="444.40" stroke="#3a3a3a" stroke-width="1.00"/>
<line x1="281.20" y1="412.10" x2="283.40" y2="412.10" stroke="#3a3a3a" stroke-width="1.00"/>
<line x1="281.20" y1="379.80" x2="283.40" y2="379.80" stroke="#3a3a3a" stroke-width="1.00"/>
<line x1="282.10" y1="492.85" x2="283.40" y2="492.85" stroke="#3a3a3a" stroke-width="1.00"/>
<line x1="282.10" y1="460.55" x2="283.40" y2="460.55" stroke="#3a3a3a" stroke-width="1.00"/>
<line x1="282.10" y1="428.25" x2="283.40" y2="428.25" stroke="#3a3a3a" stroke-width="1.00"/>
<line x1="282.10" y1="395.95" x2="283.40" y2="395.95" stroke="#3a3a3a" stroke-width="1.00"/>
<text class="yl" x="280.40" y="512.70" font-size="12.0" text-anchor="end">−2.50</text>
<text class="yl" x="280.40" y="480.40" font-size="12.0" text-anchor="end">−2.25</text>
<text class="yl" x="280.40" y="448.10" font-size="12.0" text-anchor="end">−2.00</text>
<text class="yl" x="280.40" y="415.80" font-size="12.0" text-anchor="end">−1.75</text>
<text class="yl" x="280.40" y="383.50" font-size="12.0" text-anchor="end">−1.50</text>
<line x1="283.40" y1="509.00" x2="283.40" y2="511.20" stroke="#3a3a3a" stroke-width="1.00"/>
<line x1="308.50" y1="509.00" x2="308.50" y2="511.20" stroke="#3a3a3a" stroke-width="1.00"/>
<line x1="333.60" y1="509.00" x2="333.60" y2="511.20" stroke="#3a3a3a" stroke-width="1.00"/>
<line x1="358.70" y1="509.00" x2="358.70" y2="511.20" stroke="#3a3a3a" stroke-width="1.00"/>
<line x1="383.80" y1="509.00" x2="383.80" y2="511.20" stroke="#3a3a3a" stroke-width="1.00"/>
<line x1="408.90" y1="509.00" x2="408.90" y2="511.20" stroke="#3a3a3a" stroke-width="1.00"/>
<line x1="434.00" y1="509.00" x2="434.00" y2="511.20" stroke="#3a3a3a" stroke-width="1.00"/>
<line x1="295.95" y1="509.00" x2="295.95" y2="510.30" stroke="#3a3a3a" stroke-width="1.00"/>
<line x1="321.05" y1="509.00" x2="321.05" y2="510.30" stroke="#3a3a3a" stroke-width="1.00"/>
<line x1="346.15" y1="509.00" x2="346.15" y2="510.30" stroke="#3a3a3a" stroke-width="1.00"/>
<line x1="371.25" y1="509.00" x2="371.25" y2="510.30" stroke="#3a3a3a" stroke-width="1.00"/>
<line x1="396.35" y1="509.00" x2="396.35" y2="510.30" stroke="#3a3a3a" stroke-width="1.00"/>
<line x1="421.45" y1="509.00" x2="421.45" y2="510.30" stroke="#3a3a3a" stroke-width="1.00"/>
<text class="xl" x="283.40" y="522.30" font-size="12.0" text-anchor="middle">−12</text>
<text class="xl" x="308.50" y="522.30" font-size="12.0" text-anchor="middle">−8</text>
<text class="xl" x="333.60" y="522.30" font-size="12.0" text-anchor="middle">−4</text>
<text class="xl" x="358.70" y="522.30" font-size="12.0" text-anchor="middle">0</text>
<text class="xl" x="383.80" y="522.30" font-size="12.0" text-anchor="middle">4</text>
<text class="xl" x="408.90" y="522.30" font-size="12.0" text-anchor="middle">8</text>
<text class="xl" x="434.00" y="522.30" font-size="12.0" text-anchor="middle">12</text>
<g clip-path="url(#cf)">
<path d="M283.50,490.47 L284.00,489.19 L284.50,487.94 L285.00,486.72 L285.50,485.52 L286.00,484.35 L286.50,483.20 L287.00,482.07 L287.50,480.97 L288.00,479.88 L288.50,478.82 L289.00,477.79 L289.50,476.77 L290.00,475.77 L290.50,474.79 L291.00,473.84 L291.50,472.90 L292.00,471.98 L292.50,471.08 L293.00,470.19 L293.50,469.32 L294.00,468.47 L294.50,467.64 L295.00,466.82 L295.50,466.02 L296.00,465.23 L296.50,464.46 L297.00,463.70 L297.50,462.95 L298.00,462.21 L298.50,461.49 L299.00,460.78 L299.50,460.08 L300.00,459.40 L300.50,458.72 L301.00,458.05 L301.50,457.39 L302.00,456.74 L302.50,456.10 L303.00,455.47 L303.50,454.85 L304.00,454.23 L304.50,453.62 L305.00,453.01 L305.50,452.41 L306.00,451.82 L306.50,451.23 L307.00,450.65 L307.50,450.07 L308.00,449.49 L308.50,448.91 L309.00,448.34 L309.50,447.77 L310.00,447.20 L310.50,446.63 L311.00,446.06 L311.50,445.50 L312.00,444.93 L312.50,444.36 L313.00,443.79 L313.50,443.21 L314.00,442.64 L314.50,442.06 L315.00,441.48 L315.50,440.90 L316.00,440.31 L316.50,439.73 L317.00,439.14 L317.50,438.55 L318.00,437.96 L318.50,437.37 L319.00,436.78 L319.50,436.20 L320.00,435.61 L320.50,435.02 L321.00,434.43 L321.50,433.85 L322.00,433.26 L322.50,432.68 L323.00,432.10 L323.50,431.53 L324.00,430.95 L324.50,430.38 L325.00,429.81 L325.50,429.25 L326.00,428.68 L326.50,428.13 L327.00,427.58 L327.50,427.03 L328.00,426.49 L328.50,425.95 L329.00,425.42 L329.50,424.89 L330.00,424.37 L330.50,423.86 L331.00,423.35 L331.50,422.85 L332.00,422.35 L332.50,421.87 L333.00,421.39 L333.50,420.92 L334.00,420.46 L334.50,420.01 L335.00,419.56 L335.50,419.13 L336.00,418.70 L336.50,418.29 L337.00,417.88 L337.50,417.48 L338.00,417.10 L338.50,416.73 L339.00,416.36 L339.50,416.01 L340.00,415.67 L340.50,415.34 L341.00,415.02 L341.50,414.71 L342.00,414.41 L342.50,414.13 L343.00,413.85 L343.50,413.59 L344.00,413.33 L344.50,413.09 L345.00,412.86 L345.50,412.63 L346.00,412.42 L346.50,412.22 L347.00,412.03 L347.50,411.85 L348.00,411.68 L348.50,411.52 L349.00,411.37 L349.50,411.23 L350.00,411.10 L350.50,410.98 L351.00,410.87 L351.50,410.77 L352.00,410.68 L352.50,410.60 L353.00,410.53 L353.50,410.47 L354.00,410.42 L354.50,410.38 L355.00,410.35 L355.50,410.33 L356.00,410.31 L356.50,410.31 L357.00,410.32 L357.50,410.34 L358.00,410.36 L358.50,410.40 L359.00,410.45 L359.50,410.50 L360.00,410.56 L360.50,410.64 L361.00,410.72 L361.50,410.81 L362.00,410.91 L362.50,411.02 L363.00,411.14 L363.50,411.27 L364.00,411.40 L364.50,411.55 L365.00,411.70 L365.50,411.86 L366.00,412.04 L366.50,412.22 L367.00,412.40 L367.50,412.60 L368.00,412.81 L368.50,413.02 L369.00,413.25 L369.50,413.48 L370.00,413.72 L370.50,413.96 L371.00,414.22 L371.50,414.49 L372.00,414.76 L372.50,415.04 L373.00,415.33 L373.50,415.63 L374.00,415.93 L374.50,416.24 L375.00,416.57 L375.50,416.89 L376.00,417.23 L376.50,417.58 L377.00,417.93 L377.50,418.29 L378.00,418.66 L378.50,419.03 L379.00,419.41 L379.50,419.80 L380.00,420.20 L380.50,420.61 L381.00,421.02 L381.50,421.43 L382.00,421.86 L382.50,422.29 L383.00,422.72 L383.50,423.16 L384.00,423.61 L384.50,424.06 L385.00,424.52 L385.50,424.98 L386.00,425.45 L386.50,425.92 L387.00,426.39 L387.50,426.87 L388.00,427.35 L388.50,427.84 L389.00,428.33 L389.50,428.82 L390.00,429.32 L390.50,429.82 L391.00,430.32 L391.50,430.82 L392.00,431.33 L392.50,431.83 L393.00,432.34 L393.50,432.85 L394.00,433.36 L394.50,433.88 L395.00,434.39 L395.50,434.91 L396.00,435.42 L396.50,435.94 L397.00,436.46 L397.50,436.98 L398.00,437.50 L398.50,438.03 L399.00,438.55 L399.50,439.08 L400.00,439.61 L400.50,440.14 L401.00,440.68 L401.50,441.22 L402.00,441.76 L402.50,442.30 L403.00,442.85 L403.50,443.40 L404.00,443.95 L404.50,444.51 L405.00,445.07 L405.50,445.63 L406.00,446.19 L406.50,446.76 L407.00,447.34 L407.50,447.92 L408.00,448.50 L408.50,449.08 L409.00,449.67 L409.50,450.27 L410.00,450.87 L410.50,451.47 L411.00,452.08 L411.50,452.69 L412.00,453.31 L412.50,453.94 L413.00,454.56 L413.50,455.20 L414.00,455.84 L414.50,456.48 L415.00,457.13 L415.50,457.79 L416.00,458.45 L416.50,459.12 L417.00,459.80 L417.50,460.48 L418.00,461.17 L418.50,461.86 L419.00,462.56 L419.50,463.27 L420.00,463.98 L420.50,464.70 L421.00,465.43 L421.50,466.17 L422.00,466.91 L422.50,467.66 L423.00,468.42 L423.50,469.18 L424.00,469.95 L424.50,470.74 L425.00,471.52 L425.50,472.32 L426.00,473.13 L426.50,473.94 L427.00,474.76 L427.50,475.59 L428.00,476.43 L428.50,477.28 L429.00,478.14 L429.50,479.00 L430.00,479.88 L430.50,480.76 L431.00,481.66 L431.50,482.56 L432.00,483.47 L432.50,484.40 L433.00,485.33 L433.50,486.27 L434.00,487.23" fill="none" stroke="#e8373d" stroke-width="1.30" stroke-linejoin="round" stroke-linecap="round"/>
<path d="M283.50,493.09 L284.00,491.05 L284.50,489.08 L285.00,487.17 L285.50,485.34 L286.00,483.56 L286.50,481.86 L287.00,480.21 L287.50,478.63 L288.00,477.11 L288.50,475.64 L289.00,474.23 L289.50,472.88 L290.00,471.57 L290.50,470.33 L291.00,469.13 L291.50,467.98 L292.00,466.88 L292.50,465.82 L293.00,464.81 L293.50,463.84 L294.00,462.92 L294.50,462.03 L295.00,461.19 L295.50,460.38 L296.00,459.60 L296.50,458.86 L297.00,458.16 L297.50,457.48 L298.00,456.83 L298.50,456.22 L299.00,455.62 L299.50,455.06 L300.00,454.52 L300.50,454.00 L301.00,453.50 L301.50,453.02 L302.00,452.57 L302.50,452.13 L303.00,451.71 L303.50,451.31 L304.00,450.92 L304.50,450.55 L305.00,450.19 L305.50,449.85 L306.00,449.52 L306.50,449.20 L307.00,448.90 L307.50,448.60 L308.00,448.31 L308.50,448.04 L309.00,447.76 L309.50,447.50 L310.00,447.24 L310.50,446.99 L311.00,446.74 L311.50,446.49 L312.00,446.25 L312.50,446.01 L313.00,445.77 L313.50,445.54 L314.00,445.31 L314.50,445.08 L315.00,444.85 L315.50,444.63 L316.00,444.41 L316.50,444.20 L317.00,443.99 L317.50,443.78 L318.00,443.57 L318.50,443.36 L319.00,443.16 L319.50,442.96 L320.00,442.77 L320.50,442.58 L321.00,442.39 L321.50,442.20 L322.00,442.01 L322.50,441.83 L323.00,441.65 L323.50,441.48 L324.00,441.30 L324.50,441.13 L325.00,440.96 L325.50,440.79 L326.00,440.63 L326.50,440.47 L327.00,440.31 L327.50,440.15 L328.00,440.00 L328.50,439.84 L329.00,439.69 L329.50,439.54 L330.00,439.40 L330.50,439.26 L331.00,439.11 L331.50,438.97 L332.00,438.84 L332.50,438.70 L333.00,438.57 L333.50,438.44 L334.00,438.31 L334.50,438.18 L335.00,438.06 L335.50,437.94 L336.00,437.81 L336.50,437.70 L337.00,437.58 L337.50,437.46 L338.00,437.35 L338.50,437.24 L339.00,437.14 L339.50,437.03 L340.00,436.93 L340.50,436.83 L341.00,436.73 L341.50,436.64 L342.00,436.54 L342.50,436.45 L343.00,436.37 L343.50,436.28 L344.00,436.20 L344.50,436.13 L345.00,436.05 L345.50,435.98 L346.00,435.91 L346.50,435.85 L347.00,435.79 L347.50,435.73 L348.00,435.68 L348.50,435.63 L349.00,435.58 L349.50,435.54 L350.00,435.50 L350.50,435.46 L351.00,435.43 L351.50,435.40 L352.00,435.38 L352.50,435.36 L353.00,435.34 L353.50,435.33 L354.00,435.32 L354.50,435.32 L355.00,435.32 L355.50,435.32 L356.00,435.33 L356.50,435.35 L357.00,435.37 L357.50,435.39 L358.00,435.42 L358.50,435.45 L359.00,435.49 L359.50,435.53 L360.00,435.57 L360.50,435.61 L361.00,435.66 L361.50,435.72 L362.00,435.77 L362.50,435.83 L363.00,435.89 L363.50,435.96 L364.00,436.02 L364.50,436.09 L365.00,436.16 L365.50,436.24 L366.00,436.31 L366.50,436.39 L367.00,436.47 L367.50,436.55 L368.00,436.63 L368.50,436.71 L369.00,436.80 L369.50,436.88 L370.00,436.97 L370.50,437.05 L371.00,437.14 L371.50,437.23 L372.00,437.32 L372.50,437.41 L373.00,437.49 L373.50,437.58 L374.00,437.67 L374.50,437.76 L375.00,437.85 L375.50,437.93 L376.00,438.02 L376.50,438.10 L377.00,438.19 L377.50,438.27 L378.00,438.35 L378.50,438.43 L379.00,438.51 L379.50,438.59 L380.00,438.66 L380.50,438.74 L381.00,438.81 L381.50,438.89 L382.00,438.96 L382.50,439.04 L383.00,439.11 L383.50,439.19 L384.00,439.27 L384.50,439.35 L385.00,439.42 L385.50,439.51 L386.00,439.59 L386.50,439.67 L387.00,439.76 L387.50,439.85 L388.00,439.94 L388.50,440.03 L389.00,440.13 L389.50,440.23 L390.00,440.33 L390.50,440.44 L391.00,440.55 L391.50,440.67 L392.00,440.79 L392.50,440.92 L393.00,441.05 L393.50,441.18 L394.00,441.32 L394.50,441.47 L395.00,441.62 L395.50,441.77 L396.00,441.94 L396.50,442.11 L397.00,442.29 L397.50,442.47 L398.00,442.66 L398.50,442.86 L399.00,443.06 L399.50,443.28 L400.00,443.50 L400.50,443.73 L401.00,443.97 L401.50,444.21 L402.00,444.47 L402.50,444.73 L403.00,445.01 L403.50,445.29 L404.00,445.58 L404.50,445.89 L405.00,446.20 L405.50,446.53 L406.00,446.86 L406.50,447.21 L407.00,447.56 L407.50,447.93 L408.00,448.31 L408.50,448.70 L409.00,449.11 L409.50,449.52 L410.00,449.95 L410.50,450.39 L411.00,450.85 L411.50,451.31 L412.00,451.80 L412.50,452.29 L413.00,452.80 L413.50,453.32 L414.00,453.86 L414.50,454.41 L415.00,454.97 L415.50,455.55 L416.00,456.15 L416.50,456.76 L417.00,457.39 L417.50,458.03 L418.00,458.69 L418.50,459.37 L419.00,460.06 L419.50,460.77 L420.00,461.49 L420.50,462.23 L421.00,462.99 L421.50,463.77 L422.00,464.57 L422.50,465.38 L423.00,466.21 L423.50,467.06 L424.00,467.93 L424.50,468.82 L425.00,469.73 L425.50,470.65 L426.00,471.60 L426.50,472.57 L427.00,473.55 L427.50,474.56 L428.00,475.59 L428.50,476.64 L429.00,477.71 L429.50,478.80 L430.00,479.91 L430.50,481.04 L431.00,482.20 L431.50,483.38 L432.00,484.58 L432.50,485.80 L433.00,487.04 L433.50,488.31 L434.00,489.61" fill="none" stroke="#2f78d8" stroke-width="1.30" stroke-linejoin="round" stroke-linecap="round"/>
<path d="M283.60,492.51 L284.10,489.53 L284.60,486.77 L285.10,484.23 L285.61,481.89 L286.11,479.73 L286.61,477.76 L287.11,475.94 L287.61,474.28 L288.11,472.76 L288.61,471.36 L289.11,470.08 L289.62,468.90 L290.12,467.80 L290.62,466.79 L291.12,465.84 L291.62,464.94 L292.12,464.09 L292.62,463.26 L293.13,462.47 L293.63,461.71 L294.13,460.98 L294.63,460.28 L295.13,459.61 L295.63,458.97 L296.13,458.35 L296.63,457.76 L297.14,457.19 L297.64,456.65 L298.14,456.13 L298.64,455.63 L299.14,455.16 L299.64,454.70 L300.14,454.27 L300.65,453.86 L301.15,453.46 L301.65,453.08 L302.15,452.72 L302.65,452.37 L303.15,452.04 L303.65,451.72 L304.15,451.42 L304.66,451.12 L305.16,450.84 L305.66,450.58 L306.16,450.32 L306.66,450.07 L307.16,449.84 L307.66,449.62 L308.17,449.41 L308.67,449.21 L309.17,449.01 L309.67,448.83 L310.17,448.66 L310.67,448.50 L311.17,448.34 L311.67,448.19 L312.18,448.06 L312.68,447.93 L313.18,447.80 L313.68,447.69 L314.18,447.58 L314.68,447.47 L315.18,447.38 L315.69,447.28 L316.19,447.20 L316.69,447.12 L317.19,447.04 L317.69,446.97 L318.19,446.90 L318.69,446.84 L319.19,446.78 L319.70,446.73 L320.20,446.67 L320.70,446.62 L321.20,446.57 L321.70,446.53 L322.20,446.48 L322.70,446.44 L323.21,446.40 L323.71,446.36 L324.21,446.32 L324.71,446.28 L325.21,446.25 L325.71,446.21 L326.21,446.18 L326.71,446.15 L327.22,446.12 L327.72,446.09 L328.22,446.07 L328.72,446.04 L329.22,446.02 L329.72,446.00 L330.22,445.98 L330.73,445.96 L331.23,445.94 L331.73,445.92 L332.23,445.90 L332.73,445.89 L333.23,445.88 L333.73,445.86 L334.23,445.85 L334.74,445.84 L335.24,445.83 L335.74,445.82 L336.24,445.82 L336.74,445.81 L337.24,445.81 L337.74,445.80 L338.25,445.80 L338.75,445.80 L339.25,445.80 L339.75,445.80 L340.25,445.80 L340.75,445.80 L341.25,445.80 L341.75,445.81 L342.26,445.81 L342.76,445.82 L343.26,445.82 L343.76,445.83 L344.26,445.84 L344.76,445.85 L345.26,445.86 L345.77,445.87 L346.27,445.88 L346.77,445.89 L347.27,445.90 L347.77,445.91 L348.27,445.93 L348.77,445.94 L349.27,445.96 L349.78,445.97 L350.28,445.99 L350.78,446.00 L351.28,446.02 L351.78,446.04 L352.28,446.05 L352.78,446.07 L353.29,446.09 L353.79,446.11 L354.29,446.13 L354.79,446.15 L355.29,446.17 L355.79,446.19 L356.29,446.21 L356.79,446.23 L357.30,446.25 L357.80,446.27 L358.30,446.29 L358.80,446.31 L359.30,446.33 L359.80,446.35 L360.30,446.38 L360.81,446.40 L361.31,446.42 L361.81,446.44 L362.31,446.47 L362.81,446.49 L363.31,446.51 L363.81,446.53 L364.31,446.56 L364.82,446.58 L365.32,446.60 L365.82,446.62 L366.32,446.64 L366.82,446.67 L367.32,446.69 L367.82,446.71 L368.33,446.73 L368.83,446.75 L369.33,446.77 L369.83,446.80 L370.33,446.82 L370.83,446.84 L371.33,446.86 L371.83,446.88 L372.34,446.90 L372.84,446.91 L373.34,446.93 L373.84,446.95 L374.34,446.97 L374.84,446.99 L375.34,447.00 L375.85,447.02 L376.35,447.04 L376.85,447.05 L377.35,447.07 L377.85,447.08 L378.35,447.10 L378.85,447.11 L379.35,447.12 L379.86,447.13 L380.36,447.15 L380.86,447.16 L381.36,447.17 L381.86,447.18 L382.36,447.18 L382.86,447.19 L383.37,447.20 L383.87,447.21 L384.37,447.21 L384.87,447.22 L385.37,447.22 L385.87,447.22 L386.37,447.23 L386.87,447.23 L387.38,447.23 L387.88,447.23 L388.38,447.23 L388.88,447.22 L389.38,447.22 L389.88,447.22 L390.38,447.21 L390.89,447.20 L391.39,447.20 L391.89,447.19 L392.39,447.18 L392.89,447.17 L393.39,447.15 L393.89,447.14 L394.39,447.13 L394.90,447.11 L395.40,447.10 L395.90,447.09 L396.40,447.08 L396.90,447.07 L397.40,447.07 L397.90,447.07 L398.41,447.07 L398.91,447.07 L399.41,447.08 L399.91,447.10 L400.41,447.12 L400.91,447.15 L401.41,447.18 L401.91,447.23 L402.42,447.27 L402.92,447.33 L403.42,447.40 L403.92,447.47 L404.42,447.56 L404.92,447.65 L405.42,447.76 L405.93,447.88 L406.43,448.00 L406.93,448.15 L407.43,448.30 L407.93,448.47 L408.43,448.65 L408.93,448.84 L409.43,449.05 L409.94,449.27 L410.44,449.52 L410.94,449.77 L411.44,450.05 L411.94,450.34 L412.44,450.64 L412.94,450.97 L413.45,451.32 L413.95,451.68 L414.45,452.06 L414.95,452.47 L415.45,452.89 L415.95,453.34 L416.45,453.81 L416.95,454.30 L417.46,454.81 L417.96,455.35 L418.46,455.91 L418.96,456.49 L419.46,457.10 L419.96,457.74 L420.46,458.40 L420.97,459.09 L421.47,459.80 L421.97,460.54 L422.47,461.31 L422.97,462.11 L423.47,462.93 L423.97,463.79 L424.47,464.67 L424.98,465.59 L425.48,466.53 L425.98,467.51 L426.48,468.52 L426.98,469.56 L427.48,470.63 L427.98,471.74 L428.49,472.88 L428.99,474.06 L429.49,475.27 L429.99,476.51 L430.49,477.79 L430.99,479.11 L431.49,480.47 L431.99,481.86 L432.50,483.29 L433.00,484.76 L433.50,486.27 L434.00,487.81" fill="none" stroke="#2ea86a" stroke-width="1.30" stroke-linejoin="round" stroke-linecap="round"/>
<path d="M283.50,493.28 L284.00,491.67 L284.50,490.09 L285.00,488.56 L285.50,487.07 L286.00,485.62 L286.50,484.22 L287.00,482.85 L287.50,481.53 L288.00,480.24 L288.50,478.99 L289.00,477.78 L289.50,476.61 L290.00,475.48 L290.50,474.38 L291.00,473.32 L291.50,472.30 L292.00,471.31 L292.50,470.36 L293.00,469.44 L293.50,468.55 L294.00,467.70 L294.50,466.88 L295.00,466.10 L295.50,465.34 L296.00,464.62 L296.50,463.92 L297.00,463.26 L297.50,462.63 L298.00,462.02 L298.50,461.45 L299.00,460.90 L299.50,460.38 L300.00,459.88 L300.50,459.42 L301.00,458.98 L301.50,458.56 L302.00,458.17 L302.50,457.81 L303.00,457.46 L303.50,457.15 L304.00,456.85 L304.50,456.58 L305.00,456.33 L305.50,456.10 L306.00,455.89 L306.50,455.70 L307.00,455.53 L307.50,455.38 L308.00,455.25 L308.50,455.13 L309.00,455.04 L309.50,454.96 L310.00,454.90 L310.50,454.85 L311.00,454.82 L311.50,454.81 L312.00,454.81 L312.50,454.82 L313.00,454.85 L313.50,454.89 L314.00,454.95 L314.50,455.02 L315.00,455.10 L315.50,455.20 L316.00,455.31 L316.50,455.43 L317.00,455.56 L317.50,455.70 L318.00,455.85 L318.50,456.02 L319.00,456.19 L319.50,456.37 L320.00,456.57 L320.50,456.77 L321.00,456.98 L321.50,457.20 L322.00,457.43 L322.50,457.66 L323.00,457.90 L323.50,458.15 L324.00,458.41 L324.50,458.67 L325.00,458.94 L325.50,459.21 L326.00,459.49 L326.50,459.77 L327.00,460.06 L327.50,460.35 L328.00,460.65 L328.50,460.95 L329.00,461.25 L329.50,461.56 L330.00,461.86 L330.50,462.17 L331.00,462.48 L331.50,462.80 L332.00,463.11 L332.50,463.43 L333.00,463.74 L333.50,464.06 L334.00,464.37 L334.50,464.68 L335.00,465.00 L335.50,465.31 L336.00,465.62 L336.50,465.92 L337.00,466.23 L337.50,466.53 L338.00,466.83 L338.50,467.13 L339.00,467.42 L339.50,467.70 L340.00,467.99 L340.50,468.26 L341.00,468.54 L341.50,468.80 L342.00,469.06 L342.50,469.32 L343.00,469.57 L343.50,469.81 L344.00,470.04 L344.50,470.27 L345.00,470.48 L345.50,470.69 L346.00,470.89 L346.50,471.08 L347.00,471.26 L347.50,471.44 L348.00,471.60 L348.50,471.75 L349.00,471.89 L349.50,472.02 L350.00,472.13 L350.50,472.24 L351.00,472.33 L351.50,472.41 L352.00,472.48 L352.50,472.54 L353.00,472.58 L353.50,472.61 L354.00,472.63 L354.50,472.63 L355.00,472.63 L355.50,472.61 L356.00,472.58 L356.50,472.54 L357.00,472.50 L357.50,472.44 L358.00,472.37 L358.50,472.29 L359.00,472.20 L359.50,472.10 L360.00,471.99 L360.50,471.88 L361.00,471.75 L361.50,471.62 L362.00,471.48 L362.50,471.33 L363.00,471.17 L363.50,471.00 L364.00,470.83 L364.50,470.65 L365.00,470.47 L365.50,470.28 L366.00,470.08 L366.50,469.87 L367.00,469.66 L367.50,469.45 L368.00,469.23 L368.50,469.00 L369.00,468.77 L369.50,468.54 L370.00,468.30 L370.50,468.05 L371.00,467.81 L371.50,467.56 L372.00,467.30 L372.50,467.05 L373.00,466.79 L373.50,466.52 L374.00,466.26 L374.50,465.99 L375.00,465.72 L375.50,465.45 L376.00,465.18 L376.50,464.91 L377.00,464.63 L377.50,464.36 L378.00,464.08 L378.50,463.81 L379.00,463.53 L379.50,463.26 L380.00,462.98 L380.50,462.71 L381.00,462.44 L381.50,462.17 L382.00,461.90 L382.50,461.63 L383.00,461.36 L383.50,461.10 L384.00,460.84 L384.50,460.58 L385.00,460.32 L385.50,460.07 L386.00,459.82 L386.50,459.57 L387.00,459.33 L387.50,459.10 L388.00,458.86 L388.50,458.63 L389.00,458.41 L389.50,458.19 L390.00,457.98 L390.50,457.77 L391.00,457.57 L391.50,457.38 L392.00,457.19 L392.50,457.00 L393.00,456.83 L393.50,456.66 L394.00,456.50 L394.50,456.35 L395.00,456.20 L395.50,456.06 L396.00,455.93 L396.50,455.81 L397.00,455.70 L397.50,455.59 L398.00,455.50 L398.50,455.42 L399.00,455.34 L399.50,455.28 L400.00,455.22 L400.50,455.18 L401.00,455.14 L401.50,455.12 L402.00,455.11 L402.50,455.11 L403.00,455.12 L403.50,455.14 L404.00,455.18 L404.50,455.23 L405.00,455.29 L405.50,455.36 L406.00,455.45 L406.50,455.55 L407.00,455.66 L407.50,455.79 L408.00,455.93 L408.50,456.08 L409.00,456.25 L409.50,456.44 L410.00,456.64 L410.50,456.85 L411.00,457.09 L411.50,457.33 L412.00,457.59 L412.50,457.87 L413.00,458.17 L413.50,458.48 L414.00,458.81 L414.50,459.15 L415.00,459.52 L415.50,459.90 L416.00,460.30 L416.50,460.72 L417.00,461.15 L417.50,461.61 L418.00,462.08 L418.50,462.57 L419.00,463.08 L419.50,463.62 L420.00,464.17 L420.50,464.74 L421.00,465.33 L421.50,465.94 L422.00,466.58 L422.50,467.23 L423.00,467.90 L423.50,468.60 L424.00,469.32 L424.50,470.06 L425.00,470.83 L425.50,471.61 L426.00,472.42 L426.50,473.25 L427.00,474.11 L427.50,474.98 L428.00,475.89 L428.50,476.81 L429.00,477.76 L429.50,478.74 L430.00,479.74 L430.50,480.76 L431.00,481.81 L431.50,482.88 L432.00,483.98 L432.50,485.11 L433.00,486.26 L433.50,487.44 L434.00,488.65" fill="none" stroke="#aa6ee0" stroke-width="1.30" stroke-linejoin="round" stroke-linecap="round"/>
</g>
<rect x="283.40" y="379.80" width="150.60" height="129.20" fill="none" stroke="#3a3a3a" stroke-width="1.00"/>
<line x1="290.70" y1="484.10" x2="303.00" y2="484.10" stroke="#e8373d" stroke-width="1.30"/>
<text class="lg" x="309.40" y="488.20" font-size="10.8"><tspan font-style="italic">L</tspan><tspan font-size="7.2" dy="2.8">3</tspan><tspan dy="-2.8">=3.1 μm</tspan></text>
<line x1="362.10" y1="483.80" x2="375.00" y2="483.80" stroke="#2f78d8" stroke-width="1.30"/>
<text class="lg" x="380.80" y="488.20" font-size="10.8"><tspan font-style="italic">L</tspan><tspan font-size="7.2" dy="2.8">3</tspan><tspan dy="-2.8">=3.3 μm</tspan></text>
<line x1="290.70" y1="499.20" x2="303.00" y2="499.20" stroke="#2ea86a" stroke-width="1.30"/>
<text class="lg" x="309.40" y="503.20" font-size="10.8"><tspan font-style="italic">L</tspan><tspan font-size="7.2" dy="2.8">3</tspan><tspan dy="-2.8">=3.5 μm</tspan></text>
<line x1="362.10" y1="499.20" x2="375.00" y2="499.20" stroke="#aa6ee0" stroke-width="1.30"/>
<text class="lg" x="380.80" y="503.20" font-size="10.8"><tspan font-style="italic">L</tspan><tspan font-size="7.2" dy="2.8">3</tspan><tspan dy="-2.8">=3.7 μm</tspan></text>
<text class="pl" x="234.00" y="365.50" font-size="17.0">(f)</text>
<text class="yt" transform="translate(248.00,444.60) rotate(-90)" x="0" y="0" font-size="16.8" text-anchor="middle">Light Intensity (dB)</text>
<text class="xt" x="338.80" y="537.40" font-size="16.5">X (μm)</text>
</svg>
</body></html>
